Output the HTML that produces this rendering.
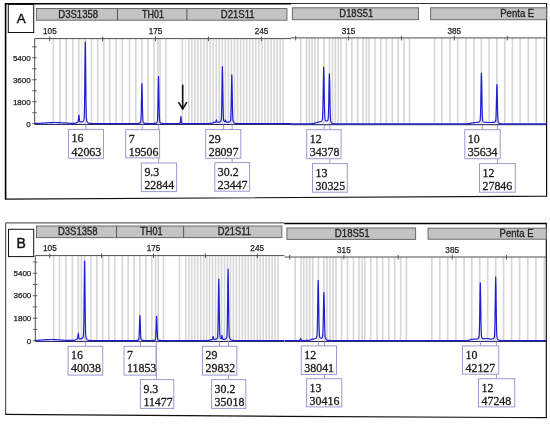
<!DOCTYPE html>
<html><head><meta charset="utf-8"><title>Electropherogram</title>
<style>
html,body{margin:0;padding:0;background:#fff;}
body{width:550px;height:425px;overflow:hidden;}
svg{display:block;}
</style></head>
<body>
<svg width="550" height="425" viewBox="0 0 550 425">
<rect x="0" y="0" width="550" height="425" fill="#fff"/>
<polyline points="5.6,199.2 5.6,3.8 291,3.8" fill="none" stroke="#000" stroke-width="1.6"/>
<polyline points="291,3.5 546.6,3.5" fill="none" stroke="#333" stroke-width="1.0"/>
<polyline points="546.6,3.0 546.6,196.1 5.0,199.2" fill="none" stroke="#111" stroke-width="1.2"/>
<rect x="8.3" y="4.5" width="25.4" height="28.0" fill="#fff" stroke="#111" stroke-width="1"/>
<text x="21.1" y="23.3" font-family="Liberation Sans, sans-serif" font-size="13.4" text-anchor="middle" fill="#111" stroke="#111" stroke-width="0.4">A</text>
<rect x="36.4" y="8.5" width="250.5" height="11.7" fill="#c3c3c3" stroke="#6a6a6a" stroke-width="1"/>
<line x1="117.5" y1="8.5" x2="117.5" y2="20.2" stroke="#555" stroke-width="1"/>
<line x1="186.9" y1="8.5" x2="186.9" y2="20.2" stroke="#555" stroke-width="1"/>
<rect x="292.4" y="7.8" width="126.1" height="11.9" fill="#c3c3c3" stroke="#6a6a6a" stroke-width="1"/>
<rect x="430.6" y="7.8" width="116.0" height="11.9" fill="#c3c3c3" stroke="#6a6a6a" stroke-width="1"/>
<text x="78.20" y="18.0" font-family="Liberation Sans, sans-serif" font-size="10.1" text-anchor="middle" textLength="39.9" lengthAdjust="spacingAndGlyphs" fill="#222" stroke="#222" stroke-width="0.3">D3S1358</text>
<text x="152.95" y="18.0" font-family="Liberation Sans, sans-serif" font-size="10.1" text-anchor="middle" textLength="21.8" lengthAdjust="spacingAndGlyphs" fill="#222" stroke="#222" stroke-width="0.3">TH01</text>
<text x="237.70" y="18.1" font-family="Liberation Sans, sans-serif" font-size="10.1" text-anchor="middle" textLength="33.9" lengthAdjust="spacingAndGlyphs" fill="#222" stroke="#222" stroke-width="0.3">D21S11</text>
<text x="356.35" y="17.3" font-family="Liberation Sans, sans-serif" font-size="10.1" text-anchor="middle" textLength="34.0" lengthAdjust="spacingAndGlyphs" fill="#222" stroke="#222" stroke-width="0.3">D18S51</text>
<text x="517.25" y="17.0" font-family="Liberation Sans, sans-serif" font-size="10.1" text-anchor="middle" textLength="34.0" lengthAdjust="spacingAndGlyphs" fill="#222" stroke="#222" stroke-width="0.3">Penta E</text>
<line x1="185.50" y1="38.6" x2="185.50" y2="123.5" stroke="#ececec" stroke-width="1.2"/>
<line x1="81.70" y1="38.6" x2="81.70" y2="123.5" stroke="#ececec" stroke-width="1.2"/>
<line x1="53.40" y1="38.6" x2="53.40" y2="123.5" stroke="#d6d6d6" stroke-width="1.6"/>
<line x1="59.90" y1="38.6" x2="59.90" y2="123.5" stroke="#d6d6d6" stroke-width="1.6"/>
<line x1="66.20" y1="38.6" x2="66.20" y2="123.5" stroke="#d6d6d6" stroke-width="1.6"/>
<line x1="72.80" y1="38.6" x2="72.80" y2="123.5" stroke="#d6d6d6" stroke-width="1.6"/>
<line x1="78.80" y1="38.6" x2="78.80" y2="123.5" stroke="#d6d6d6" stroke-width="1.6"/>
<line x1="85.30" y1="38.6" x2="85.30" y2="123.5" stroke="#d6d6d6" stroke-width="1.6"/>
<line x1="91.50" y1="38.6" x2="91.50" y2="123.5" stroke="#d6d6d6" stroke-width="1.6"/>
<line x1="97.70" y1="38.6" x2="97.70" y2="123.5" stroke="#d6d6d6" stroke-width="1.6"/>
<line x1="103.80" y1="38.6" x2="103.80" y2="123.5" stroke="#d6d6d6" stroke-width="1.6"/>
<line x1="109.80" y1="38.6" x2="109.80" y2="123.5" stroke="#d6d6d6" stroke-width="1.6"/>
<line x1="116.20" y1="38.6" x2="116.20" y2="123.5" stroke="#d6d6d6" stroke-width="1.6"/>
<line x1="122.30" y1="38.6" x2="122.30" y2="123.5" stroke="#d6d6d6" stroke-width="1.6"/>
<line x1="129.60" y1="38.6" x2="129.60" y2="123.5" stroke="#d6d6d6" stroke-width="1.6"/>
<line x1="135.80" y1="38.6" x2="135.80" y2="123.5" stroke="#d6d6d6" stroke-width="1.6"/>
<line x1="141.90" y1="38.6" x2="141.90" y2="123.5" stroke="#d6d6d6" stroke-width="1.6"/>
<line x1="147.90" y1="38.6" x2="147.90" y2="123.5" stroke="#d6d6d6" stroke-width="1.6"/>
<line x1="154.10" y1="38.6" x2="154.10" y2="123.5" stroke="#d6d6d6" stroke-width="1.6"/>
<line x1="158.00" y1="38.6" x2="158.00" y2="123.5" stroke="#d6d6d6" stroke-width="1.6"/>
<line x1="160.10" y1="38.6" x2="160.10" y2="123.5" stroke="#d6d6d6" stroke-width="1.6"/>
<line x1="165.90" y1="38.6" x2="165.90" y2="123.5" stroke="#d6d6d6" stroke-width="1.6"/>
<line x1="182.30" y1="38.6" x2="182.30" y2="123.5" stroke="#d6d6d6" stroke-width="1.6"/>
<line x1="188.80" y1="38.6" x2="188.80" y2="123.5" stroke="#d6d6d6" stroke-width="1.6"/>
<line x1="191.84" y1="38.6" x2="191.84" y2="123.5" stroke="#d6d6d6" stroke-width="1.6"/>
<line x1="194.89" y1="38.6" x2="194.89" y2="123.5" stroke="#d6d6d6" stroke-width="1.6"/>
<line x1="197.94" y1="38.6" x2="197.94" y2="123.5" stroke="#d6d6d6" stroke-width="1.6"/>
<line x1="200.98" y1="38.6" x2="200.98" y2="123.5" stroke="#d6d6d6" stroke-width="1.6"/>
<line x1="204.03" y1="38.6" x2="204.03" y2="123.5" stroke="#d6d6d6" stroke-width="1.6"/>
<line x1="207.07" y1="38.6" x2="207.07" y2="123.5" stroke="#d6d6d6" stroke-width="1.6"/>
<line x1="210.12" y1="38.6" x2="210.12" y2="123.5" stroke="#d6d6d6" stroke-width="1.6"/>
<line x1="213.16" y1="38.6" x2="213.16" y2="123.5" stroke="#d6d6d6" stroke-width="1.6"/>
<line x1="216.21" y1="38.6" x2="216.21" y2="123.5" stroke="#d6d6d6" stroke-width="1.6"/>
<line x1="219.25" y1="38.6" x2="219.25" y2="123.5" stroke="#d6d6d6" stroke-width="1.6"/>
<line x1="222.30" y1="38.6" x2="222.30" y2="123.5" stroke="#d6d6d6" stroke-width="1.6"/>
<line x1="225.34" y1="38.6" x2="225.34" y2="123.5" stroke="#d6d6d6" stroke-width="1.6"/>
<line x1="228.39" y1="38.6" x2="228.39" y2="123.5" stroke="#d6d6d6" stroke-width="1.6"/>
<line x1="231.43" y1="38.6" x2="231.43" y2="123.5" stroke="#d6d6d6" stroke-width="1.6"/>
<line x1="234.48" y1="38.6" x2="234.48" y2="123.5" stroke="#d6d6d6" stroke-width="1.6"/>
<line x1="237.52" y1="38.6" x2="237.52" y2="123.5" stroke="#d6d6d6" stroke-width="1.6"/>
<line x1="240.56" y1="38.6" x2="240.56" y2="123.5" stroke="#d6d6d6" stroke-width="1.6"/>
<line x1="243.61" y1="38.6" x2="243.61" y2="123.5" stroke="#d6d6d6" stroke-width="1.6"/>
<line x1="246.66" y1="38.6" x2="246.66" y2="123.5" stroke="#d6d6d6" stroke-width="1.6"/>
<line x1="249.70" y1="38.6" x2="249.70" y2="123.5" stroke="#d6d6d6" stroke-width="1.6"/>
<line x1="252.75" y1="38.6" x2="252.75" y2="123.5" stroke="#d6d6d6" stroke-width="1.6"/>
<line x1="255.79" y1="38.6" x2="255.79" y2="123.5" stroke="#d6d6d6" stroke-width="1.6"/>
<line x1="258.84" y1="38.6" x2="258.84" y2="123.5" stroke="#d6d6d6" stroke-width="1.6"/>
<line x1="261.88" y1="38.6" x2="261.88" y2="123.5" stroke="#d6d6d6" stroke-width="1.6"/>
<line x1="264.93" y1="38.6" x2="264.93" y2="123.5" stroke="#d6d6d6" stroke-width="1.6"/>
<line x1="267.97" y1="38.6" x2="267.97" y2="123.5" stroke="#d6d6d6" stroke-width="1.6"/>
<line x1="271.01" y1="38.6" x2="271.01" y2="123.5" stroke="#d6d6d6" stroke-width="1.6"/>
<line x1="274.06" y1="38.6" x2="274.06" y2="123.5" stroke="#d6d6d6" stroke-width="1.6"/>
<line x1="277.11" y1="38.6" x2="277.11" y2="123.5" stroke="#d6d6d6" stroke-width="1.6"/>
<line x1="280.15" y1="38.6" x2="280.15" y2="123.5" stroke="#d6d6d6" stroke-width="1.6"/>
<line x1="283.19" y1="38.6" x2="283.19" y2="123.5" stroke="#d6d6d6" stroke-width="1.6"/>
<line x1="34.7" y1="38.60" x2="291.0" y2="38.60" stroke="#505050" stroke-width="1"/>
<line x1="34.7" y1="124.40" x2="291.0" y2="124.40" stroke="#14145a" stroke-width="1.0"/>
<line x1="49.70" y1="36.6" x2="49.70" y2="41.1" stroke="#505050" stroke-width="1"/>
<line x1="102.60" y1="36.6" x2="102.60" y2="41.1" stroke="#505050" stroke-width="1"/>
<line x1="155.50" y1="36.6" x2="155.50" y2="41.1" stroke="#505050" stroke-width="1"/>
<line x1="208.40" y1="36.6" x2="208.40" y2="41.1" stroke="#505050" stroke-width="1"/>
<line x1="261.40" y1="36.6" x2="261.40" y2="41.1" stroke="#505050" stroke-width="1"/>
<text x="49.9" y="34.4" font-family="Liberation Sans, sans-serif" font-size="8.2" text-anchor="middle" fill="#222" stroke="#222" stroke-width="0.25">105</text>
<text x="155.6" y="34.4" font-family="Liberation Sans, sans-serif" font-size="8.2" text-anchor="middle" fill="#222" stroke="#222" stroke-width="0.25">175</text>
<text x="261.5" y="34.4" font-family="Liberation Sans, sans-serif" font-size="8.2" text-anchor="middle" fill="#222" stroke="#222" stroke-width="0.25">245</text>
<line x1="34.7" y1="38.6" x2="34.7" y2="124.5" stroke="#505050" stroke-width="1"/>
<line x1="32.2" y1="46.80" x2="36.7" y2="46.80" stroke="#505050" stroke-width="0.9"/>
<line x1="32.2" y1="57.78" x2="36.7" y2="57.78" stroke="#505050" stroke-width="0.9"/>
<line x1="32.2" y1="68.76" x2="36.7" y2="68.76" stroke="#505050" stroke-width="0.9"/>
<line x1="32.2" y1="79.74" x2="36.7" y2="79.74" stroke="#505050" stroke-width="0.9"/>
<line x1="32.2" y1="90.72" x2="36.7" y2="90.72" stroke="#505050" stroke-width="0.9"/>
<line x1="32.2" y1="101.70" x2="36.7" y2="101.70" stroke="#505050" stroke-width="0.9"/>
<line x1="32.2" y1="112.68" x2="36.7" y2="112.68" stroke="#505050" stroke-width="0.9"/>
<line x1="32.2" y1="123.66" x2="36.7" y2="123.66" stroke="#505050" stroke-width="0.9"/>
<text x="30.7" y="60.90" font-family="Liberation Sans, sans-serif" font-size="8" text-anchor="end" fill="#222" stroke="#222" stroke-width="0.25">5400</text>
<text x="30.7" y="82.50" font-family="Liberation Sans, sans-serif" font-size="8" text-anchor="end" fill="#222" stroke="#222" stroke-width="0.25">3600</text>
<text x="30.7" y="104.80" font-family="Liberation Sans, sans-serif" font-size="8" text-anchor="end" fill="#222" stroke="#222" stroke-width="0.25">1800</text>
<text x="30.7" y="126.60" font-family="Liberation Sans, sans-serif" font-size="8" text-anchor="end" fill="#222" stroke="#222" stroke-width="0.25">0</text>
<polyline points="34.70,123.42 34.95,123.42 35.20,123.41 35.45,123.41 35.70,123.40 35.95,123.39 36.20,123.39 36.45,123.38 36.70,123.37 36.95,123.37 37.20,123.36 37.45,123.35 37.70,123.34 37.95,123.33 38.20,123.32 38.45,123.32 38.70,123.31 38.95,123.30 39.20,123.29 39.45,123.28 39.70,123.26 39.95,123.25 40.20,123.24 40.45,123.23 40.70,123.22 40.95,123.20 41.20,123.19 41.45,123.18 41.70,123.16 41.95,123.15 42.20,123.14 42.45,123.12 42.70,123.11 42.95,123.09 43.20,123.08 43.45,123.06 43.70,123.05 43.95,123.03 44.20,123.01 44.45,123.00 44.70,122.98 44.95,122.96 45.20,122.95 45.45,122.93 45.70,122.91 45.95,122.90 46.20,122.88 46.45,122.86 46.70,122.85 46.95,122.83 47.20,122.81 47.45,122.80 47.70,122.78 47.95,122.76 48.20,122.75 48.45,122.73 48.70,122.72 48.95,122.70 49.20,122.69 49.45,122.67 49.70,122.66 49.95,122.65 50.20,122.63 50.45,122.62 50.70,122.61 50.95,122.60 51.20,122.59 51.45,122.57 51.70,122.57 51.95,122.56 52.20,122.55 52.45,122.54 52.70,122.53 52.95,122.53 53.20,122.52 53.45,122.51 53.70,122.51 53.95,122.51 54.20,122.50 54.45,122.50 54.70,122.50 54.95,122.50 55.20,122.50 55.45,122.50 55.70,122.50 55.95,122.51 56.20,122.51 56.45,122.51 56.70,122.52 56.95,122.52 57.20,122.53 57.45,122.54 57.70,122.54 57.95,122.55 58.20,122.56 58.45,122.57 58.70,122.58 58.95,122.59 59.20,122.60 59.45,122.62 59.70,122.63 59.95,122.64 60.20,122.65 60.45,122.67 60.70,122.68 60.95,122.70 61.20,122.71 61.45,122.73 61.70,122.74 61.95,122.76 62.20,122.77 62.45,122.79 62.70,122.81 62.95,122.82 63.20,122.84 63.45,122.86 63.70,122.87 63.95,122.89 64.20,122.91 64.45,122.92 64.70,122.94 64.95,122.96 65.20,122.97 65.45,122.99 65.70,123.01 65.95,123.02 66.20,123.04 66.45,123.05 66.70,123.07 66.95,123.09 67.20,123.10 67.45,123.12 67.70,123.13 67.95,123.14 68.20,123.16 68.45,123.17 68.70,123.19 68.95,123.20 69.20,123.21 69.45,123.22 69.70,123.24 69.95,123.25 70.20,123.26 70.45,123.27 70.70,123.28 70.95,123.29 71.20,123.30 71.45,123.31 71.70,123.32 71.95,123.33 72.20,123.34 72.45,123.34 72.70,123.35 72.95,123.35 73.20,123.36 73.45,123.36 73.70,123.36 73.95,123.35 74.20,123.35 74.45,123.33 74.70,123.31 74.95,123.27 75.20,123.23 75.45,123.16 75.70,123.08 75.95,122.98 76.20,122.87 76.45,122.74 76.70,122.61 76.95,122.48 77.20,122.35 77.45,122.23 77.70,122.11 77.95,121.90 78.20,121.22 78.45,119.30 78.70,116.43 78.90,115.19 78.95,115.31 79.20,117.52 79.45,120.18 79.70,121.48 79.95,121.83 80.20,121.92 80.45,121.95 80.70,121.96 80.95,121.96 81.20,121.95 81.45,121.93 81.70,121.90 81.95,121.85 82.20,121.78 82.45,121.69 82.70,121.56 82.95,121.40 83.20,121.18 83.45,120.88 83.70,120.46 83.95,119.66 84.20,117.30 84.45,109.95 84.70,92.65 84.95,66.26 85.20,44.84 85.30,41.80 85.45,47.86 85.70,71.98 85.95,97.39 86.20,112.55 86.45,118.63 86.70,120.62 86.95,121.42 87.20,121.91 87.45,122.28 87.70,122.57 87.95,122.79 88.20,122.96 88.45,123.09 88.70,123.19 88.95,123.27 89.20,123.33 89.45,123.37 89.70,123.40 89.95,123.43 90.20,123.44 90.45,123.46 90.70,123.47 90.95,123.48 91.20,123.48 91.45,123.49 91.70,123.49 91.95,123.49 92.20,123.49 92.45,123.50 92.70,123.50 92.95,123.50 93.20,123.50 93.45,123.50 93.70,123.50 93.95,123.50 94.20,123.50 94.45,123.50 94.70,123.50 94.95,123.50 95.20,123.50 95.45,123.50 95.70,123.50 95.95,123.50 96.20,123.50 96.45,123.50 96.70,123.50 96.95,123.50 97.20,123.50 97.45,123.50 97.70,123.50 97.95,123.50 98.20,123.50 98.45,123.50 98.70,123.50 98.95,123.50 99.20,123.50 99.45,123.50 99.70,123.50 99.95,123.50 100.20,123.50 100.45,123.50 100.70,123.50 100.95,123.50 101.20,123.50 101.45,123.50 101.70,123.50 101.95,123.50 102.20,123.50 102.45,123.50 102.70,123.50 102.95,123.50 103.20,123.50 103.45,123.50 103.70,123.50 103.95,123.50 104.20,123.50 104.45,123.50 104.70,123.50 104.95,123.50 105.20,123.50 105.45,123.50 105.70,123.50 105.95,123.50 106.20,123.50 106.45,123.50 106.70,123.50 106.95,123.50 107.20,123.50 107.45,123.50 107.70,123.50 107.95,123.50 108.20,123.50 108.45,123.50 108.70,123.50 108.95,123.50 109.20,123.50 109.45,123.50 109.70,123.50 109.95,123.50 110.20,123.50 110.45,123.50 110.70,123.50 110.95,123.50 111.20,123.50 111.45,123.50 111.70,123.50 111.95,123.50 112.20,123.50 112.45,123.50 112.70,123.50 112.95,123.50 113.20,123.50 113.45,123.50 113.70,123.50 113.95,123.50 114.20,123.50 114.45,123.50 114.70,123.50 114.95,123.50 115.20,123.50 115.45,123.50 115.70,123.50 115.95,123.50 116.20,123.50 116.45,123.50 116.70,123.50 116.95,123.50 117.20,123.50 117.45,123.50 117.70,123.50 117.95,123.50 118.20,123.50 118.45,123.50 118.70,123.50 118.95,123.50 119.20,123.50 119.45,123.50 119.70,123.50 119.95,123.50 120.20,123.50 120.45,123.50 120.70,123.50 120.95,123.50 121.20,123.50 121.45,123.50 121.70,123.50 121.95,123.50 122.20,123.50 122.45,123.50 122.70,123.50 122.95,123.50 123.20,123.50 123.45,123.50 123.70,123.50 123.95,123.50 124.20,123.50 124.45,123.50 124.70,123.50 124.95,123.50 125.20,123.50 125.45,123.50 125.70,123.50 125.95,123.50 126.20,123.50 126.45,123.50 126.70,123.50 126.95,123.50 127.20,123.50 127.45,123.50 127.70,123.50 127.95,123.50 128.20,123.50 128.45,123.50 128.70,123.50 128.95,123.50 129.20,123.50 129.45,123.50 129.70,123.50 129.95,123.50 130.20,123.50 130.45,123.50 130.70,123.50 130.95,123.50 131.20,123.50 131.45,123.50 131.70,123.50 131.95,123.50 132.20,123.50 132.45,123.50 132.70,123.50 132.95,123.50 133.20,123.50 133.45,123.50 133.70,123.50 133.95,123.50 134.20,123.50 134.45,123.50 134.70,123.50 134.95,123.50 135.20,123.50 135.45,123.50 135.70,123.50 135.95,123.49 136.20,123.49 136.45,123.49 136.70,123.49 136.95,123.48 137.20,123.47 137.45,123.47 137.70,123.45 137.95,123.44 138.20,123.42 138.45,123.40 138.70,123.36 138.95,123.32 139.20,123.26 139.45,123.19 139.70,123.08 139.95,122.95 140.20,122.77 140.45,122.47 140.70,121.73 140.95,119.36 141.20,112.98 141.45,101.23 141.70,88.45 141.90,83.60 141.95,84.12 142.20,93.12 142.45,106.47 142.70,116.18 142.95,120.63 143.20,122.13 143.45,122.61 143.70,122.85 143.95,123.01 144.20,123.13 144.45,123.22 144.70,123.29 144.95,123.34 145.20,123.38 145.45,123.41 145.70,123.43 145.95,123.45 146.20,123.46 146.45,123.47 146.70,123.48 146.95,123.48 147.20,123.49 147.45,123.49 147.70,123.49 147.95,123.49 148.20,123.50 148.45,123.50 148.70,123.50 148.95,123.50 149.20,123.50 149.45,123.50 149.70,123.50 149.95,123.50 150.20,123.50 150.45,123.50 150.70,123.50 150.95,123.50 151.20,123.50 151.45,123.50 151.70,123.50 151.95,123.50 152.20,123.49 152.45,123.49 152.70,123.49 152.95,123.49 153.20,123.48 153.45,123.48 153.70,123.47 153.95,123.46 154.20,123.45 154.45,123.44 154.70,123.42 154.95,123.39 155.20,123.36 155.45,123.31 155.70,123.25 155.95,123.17 156.20,123.06 156.45,122.92 156.70,122.74 156.95,122.46 157.20,121.88 157.45,120.13 157.70,114.89 157.95,103.48 158.20,87.79 158.45,77.21 158.50,76.60 158.70,82.30 158.95,97.32 159.20,111.13 159.45,118.63 159.70,121.42 159.95,122.29 160.20,122.64 160.45,122.85 160.70,123.01 160.95,123.13 161.20,123.22 161.45,123.29 161.70,123.34 161.95,123.38 162.20,123.41 162.45,123.43 162.70,123.45 162.95,123.46 163.20,123.47 163.45,123.48 163.70,123.48 163.95,123.49 164.20,123.49 164.45,123.49 164.70,123.49 164.95,123.50 165.20,123.50 165.45,123.50 165.70,123.50 165.95,123.50 166.20,123.50 166.45,123.50 166.70,123.50 166.95,123.50 167.20,123.50 167.45,123.50 167.70,123.50 167.95,123.50 168.20,123.50 168.45,123.50 168.70,123.50 168.95,123.50 169.20,123.50 169.45,123.50 169.70,123.50 169.95,123.50 170.20,123.50 170.45,123.50 170.70,123.50 170.95,123.50 171.20,123.50 171.45,123.50 171.70,123.50 171.95,123.50 172.20,123.50 172.45,123.50 172.70,123.50 172.95,123.50 173.20,123.50 173.45,123.50 173.70,123.50 173.95,123.50 174.20,123.50 174.45,123.50 174.70,123.50 174.95,123.50 175.20,123.50 175.45,123.50 175.70,123.50 175.95,123.50 176.20,123.50 176.45,123.50 176.70,123.50 176.95,123.50 177.20,123.50 177.45,123.50 177.70,123.50 177.95,123.50 178.20,123.49 178.45,123.49 178.70,123.49 178.95,123.48 179.20,123.46 179.45,123.44 179.70,123.41 179.95,123.35 180.20,123.15 180.45,121.93 180.70,118.40 180.90,116.40 180.95,116.60 181.20,120.01 181.45,122.66 181.70,123.27 181.95,123.38 182.20,123.42 182.45,123.45 182.70,123.47 182.95,123.48 183.20,123.49 183.45,123.49 183.70,123.50 183.95,123.50 184.20,123.50 184.45,123.50 184.70,123.50 184.95,123.50 185.20,123.50 185.45,123.50 185.70,123.50 185.95,123.50 186.20,123.50 186.45,123.50 186.70,123.50 186.95,123.50 187.20,123.50 187.45,123.50 187.70,123.50 187.95,123.50 188.20,123.50 188.45,123.50 188.70,123.50 188.95,123.50 189.20,123.50 189.45,123.50 189.70,123.50 189.95,123.50 190.20,123.50 190.45,123.50 190.70,123.50 190.95,123.50 191.20,123.50 191.45,123.50 191.70,123.50 191.95,123.50 192.20,123.50 192.45,123.50 192.70,123.50 192.95,123.50 193.20,123.50 193.45,123.50 193.70,123.50 193.95,123.50 194.20,123.50 194.45,123.50 194.70,123.50 194.95,123.50 195.20,123.50 195.45,123.50 195.70,123.50 195.95,123.50 196.20,123.50 196.45,123.50 196.70,123.50 196.95,123.50 197.20,123.50 197.45,123.50 197.70,123.50 197.95,123.50 198.20,123.50 198.45,123.50 198.70,123.50 198.95,123.50 199.20,123.50 199.45,123.50 199.70,123.50 199.95,123.50 200.20,123.50 200.45,123.50 200.70,123.50 200.95,123.50 201.20,123.50 201.45,123.50 201.70,123.50 201.95,123.50 202.20,123.50 202.45,123.50 202.70,123.50 202.95,123.50 203.20,123.50 203.45,123.50 203.70,123.50 203.95,123.50 204.20,123.50 204.45,123.50 204.70,123.50 204.95,123.50 205.20,123.50 205.45,123.50 205.70,123.50 205.95,123.50 206.20,123.50 206.45,123.50 206.70,123.50 206.95,123.50 207.20,123.50 207.45,123.50 207.70,123.50 207.95,123.50 208.20,123.49 208.45,123.49 208.70,123.49 208.95,123.49 209.20,123.48 209.45,123.47 209.70,123.46 209.95,123.45 210.20,123.44 210.45,123.41 210.70,123.39 210.95,123.35 211.20,123.30 211.45,123.25 211.70,123.18 211.95,123.10 212.20,123.01 212.45,122.92 212.70,122.82 212.95,122.73 213.20,122.65 213.45,122.58 213.70,122.51 213.95,122.46 214.20,122.42 214.45,122.38 214.70,122.35 214.95,122.32 215.20,122.29 215.45,122.24 215.70,122.07 215.95,121.46 216.20,120.39 216.40,119.89 216.45,119.94 216.70,120.81 216.95,121.76 217.20,122.13 217.45,122.21 217.70,122.23 217.95,122.23 218.20,122.22 218.45,122.20 218.70,122.18 218.95,122.15 219.20,122.11 219.45,122.05 219.70,121.97 219.95,121.86 220.20,121.72 220.45,121.53 220.70,121.28 220.95,120.86 221.20,119.83 221.45,116.52 221.70,107.61 221.95,91.21 222.20,73.37 222.40,66.60 222.45,67.32 222.70,79.88 222.95,98.52 223.20,112.07 223.45,118.29 223.70,120.37 223.95,121.04 224.20,121.36 224.45,121.57 224.70,121.70 224.95,121.64 225.20,121.13 225.45,120.32 225.60,120.10 225.70,120.25 225.95,121.12 226.20,121.85 226.45,122.11 226.70,122.18 226.95,122.20 227.20,122.21 227.45,122.22 227.70,122.21 227.95,122.20 228.20,122.18 228.45,122.15 228.70,122.11 228.95,122.05 229.20,121.98 229.45,121.88 229.70,121.75 229.95,121.57 230.20,121.32 230.45,120.84 230.70,119.44 230.95,115.10 231.20,104.90 231.45,89.33 231.70,76.70 231.80,74.90 231.95,78.46 232.20,92.67 232.45,107.64 232.70,116.59 232.95,120.20 233.20,121.42 233.45,121.95 233.70,122.31 233.95,122.59 234.20,122.82 234.45,123.00 234.70,123.13 234.95,123.23 235.20,123.30 235.45,123.36 235.70,123.40 235.95,123.42 236.20,123.44 236.45,123.46 236.70,123.47 236.95,123.48 237.20,123.48 237.45,123.49 237.70,123.49 237.95,123.49 238.20,123.49 238.45,123.50 238.70,123.50 238.95,123.50 239.20,123.50 239.45,123.50 239.70,123.50 239.95,123.50 240.20,123.50 240.45,123.50 240.70,123.50 240.95,123.50 241.20,123.50 241.45,123.50 241.70,123.50 241.95,123.50 242.20,123.50 242.45,123.50 242.70,123.50 242.95,123.50 243.20,123.50 243.45,123.50 243.70,123.50 243.95,123.50 244.20,123.50 244.45,123.50 244.70,123.50 244.95,123.50 245.20,123.50 245.45,123.50 245.70,123.50 245.95,123.50 246.20,123.50 246.45,123.50 246.70,123.50 246.95,123.50 247.20,123.50 247.45,123.50 247.70,123.50 247.95,123.50 248.20,123.50 248.45,123.50 248.70,123.50 248.95,123.50 249.20,123.50 249.45,123.50 249.70,123.50 249.95,123.50 250.20,123.50 250.45,123.50 250.70,123.50 250.95,123.50 251.20,123.50 251.45,123.50 251.70,123.50 251.95,123.50 252.20,123.50 252.45,123.50 252.70,123.50 252.95,123.50 253.20,123.50 253.45,123.50 253.70,123.50 253.95,123.50 254.20,123.50 254.45,123.50 254.70,123.50 254.95,123.50 255.20,123.50 255.45,123.50 255.70,123.50 255.95,123.50 256.20,123.50 256.45,123.50 256.70,123.50 256.95,123.50 257.20,123.50 257.45,123.50 257.70,123.50 257.95,123.50 258.20,123.50 258.45,123.50 258.70,123.50 258.95,123.50 259.20,123.50 259.45,123.50 259.70,123.50 259.95,123.50 260.20,123.50 260.45,123.50 260.70,123.50 260.95,123.50 261.20,123.50 261.45,123.50 261.70,123.50 261.95,123.50 262.20,123.50 262.45,123.50 262.70,123.50 262.95,123.50 263.20,123.50 263.45,123.50 263.70,123.50 263.95,123.50 264.20,123.50 264.45,123.50 264.70,123.50 264.95,123.50 265.20,123.50 265.45,123.50 265.70,123.50 265.95,123.50 266.20,123.50 266.45,123.50 266.70,123.50 266.95,123.50 267.20,123.50 267.45,123.50 267.70,123.50 267.95,123.50 268.20,123.50 268.45,123.50 268.70,123.50 268.95,123.50 269.20,123.50 269.45,123.50 269.70,123.50 269.95,123.50 270.20,123.50 270.45,123.50 270.70,123.50 270.95,123.50 271.20,123.50 271.45,123.50 271.70,123.50 271.95,123.50 272.20,123.50 272.45,123.50 272.70,123.50 272.95,123.50 273.20,123.50 273.45,123.50 273.70,123.50 273.95,123.50 274.20,123.50 274.45,123.50 274.70,123.50 274.95,123.50 275.20,123.50 275.45,123.50 275.70,123.50 275.95,123.50 276.20,123.50 276.45,123.50 276.70,123.50 276.95,123.50 277.20,123.50 277.45,123.50 277.70,123.50 277.95,123.50 278.20,123.50 278.45,123.50 278.70,123.50 278.95,123.50 279.20,123.50 279.45,123.50 279.70,123.50 279.95,123.50 280.20,123.50 280.45,123.50 280.70,123.50 280.95,123.50 281.20,123.50 281.45,123.50 281.70,123.50 281.95,123.50 282.20,123.50 282.45,123.50 282.70,123.50 282.95,123.50 283.20,123.50 283.45,123.50 283.70,123.50 283.95,123.50 284.20,123.50 284.45,123.50 284.70,123.50 284.95,123.50 285.20,123.50 285.45,123.50 285.70,123.50 285.95,123.50 286.20,123.50 286.45,123.50 286.70,123.50 286.95,123.50 287.20,123.50 287.45,123.50 287.70,123.50 287.95,123.50 288.20,123.50 288.45,123.50 288.70,123.50 288.95,123.50 289.20,123.50 289.45,123.50 289.70,123.50 289.95,123.50 290.20,123.50 290.45,123.50 290.70,123.50 290.95,123.50" fill="none" stroke="#1e1ed4" stroke-width="1.2" stroke-linejoin="round"/>
<line x1="300.70" y1="37.9" x2="300.70" y2="123.8" stroke="#d6d6d6" stroke-width="1.6"/>
<line x1="306.60" y1="37.9" x2="306.60" y2="123.8" stroke="#d6d6d6" stroke-width="1.6"/>
<line x1="309.40" y1="37.9" x2="309.40" y2="123.8" stroke="#d6d6d6" stroke-width="1.6"/>
<line x1="312.10" y1="37.9" x2="312.10" y2="123.8" stroke="#d6d6d6" stroke-width="1.6"/>
<line x1="314.80" y1="37.9" x2="314.80" y2="123.8" stroke="#d6d6d6" stroke-width="1.6"/>
<line x1="318.00" y1="37.9" x2="318.00" y2="123.8" stroke="#d6d6d6" stroke-width="1.6"/>
<line x1="323.90" y1="37.9" x2="323.90" y2="123.8" stroke="#d6d6d6" stroke-width="1.6"/>
<line x1="329.40" y1="37.9" x2="329.40" y2="123.8" stroke="#d6d6d6" stroke-width="1.6"/>
<line x1="332.50" y1="37.9" x2="332.50" y2="123.8" stroke="#d6d6d6" stroke-width="1.6"/>
<line x1="335.30" y1="37.9" x2="335.30" y2="123.8" stroke="#d6d6d6" stroke-width="1.6"/>
<line x1="338.20" y1="37.9" x2="338.20" y2="123.8" stroke="#d6d6d6" stroke-width="1.6"/>
<line x1="340.90" y1="37.9" x2="340.90" y2="123.8" stroke="#d6d6d6" stroke-width="1.6"/>
<line x1="346.40" y1="37.9" x2="346.40" y2="123.8" stroke="#d6d6d6" stroke-width="1.6"/>
<line x1="351.80" y1="37.9" x2="351.80" y2="123.8" stroke="#d6d6d6" stroke-width="1.6"/>
<line x1="357.70" y1="37.9" x2="357.70" y2="123.8" stroke="#d6d6d6" stroke-width="1.6"/>
<line x1="363.20" y1="37.9" x2="363.20" y2="123.8" stroke="#d6d6d6" stroke-width="1.6"/>
<line x1="366.40" y1="37.9" x2="366.40" y2="123.8" stroke="#d6d6d6" stroke-width="1.6"/>
<line x1="369.10" y1="37.9" x2="369.10" y2="123.8" stroke="#d6d6d6" stroke-width="1.6"/>
<line x1="375.00" y1="37.9" x2="375.00" y2="123.8" stroke="#d6d6d6" stroke-width="1.6"/>
<line x1="380.70" y1="37.9" x2="380.70" y2="123.8" stroke="#d6d6d6" stroke-width="1.6"/>
<line x1="386.40" y1="37.9" x2="386.40" y2="123.8" stroke="#d6d6d6" stroke-width="1.6"/>
<line x1="392.30" y1="37.9" x2="392.30" y2="123.8" stroke="#d6d6d6" stroke-width="1.6"/>
<line x1="398.20" y1="37.9" x2="398.20" y2="123.8" stroke="#d6d6d6" stroke-width="1.6"/>
<line x1="404.10" y1="37.9" x2="404.10" y2="123.8" stroke="#d6d6d6" stroke-width="1.6"/>
<line x1="409.50" y1="37.9" x2="409.50" y2="123.8" stroke="#d6d6d6" stroke-width="1.6"/>
<line x1="434.50" y1="37.9" x2="434.50" y2="123.8" stroke="#d6d6d6" stroke-width="1.6"/>
<line x1="441.80" y1="37.9" x2="441.80" y2="123.8" stroke="#d6d6d6" stroke-width="1.6"/>
<line x1="450.00" y1="37.9" x2="450.00" y2="123.8" stroke="#d6d6d6" stroke-width="1.6"/>
<line x1="457.70" y1="37.9" x2="457.70" y2="123.8" stroke="#d6d6d6" stroke-width="1.6"/>
<line x1="465.90" y1="37.9" x2="465.90" y2="123.8" stroke="#d6d6d6" stroke-width="1.6"/>
<line x1="473.90" y1="37.9" x2="473.90" y2="123.8" stroke="#d6d6d6" stroke-width="1.6"/>
<line x1="481.40" y1="37.9" x2="481.40" y2="123.8" stroke="#d6d6d6" stroke-width="1.6"/>
<line x1="489.10" y1="37.9" x2="489.10" y2="123.8" stroke="#d6d6d6" stroke-width="1.6"/>
<line x1="496.80" y1="37.9" x2="496.80" y2="123.8" stroke="#d6d6d6" stroke-width="1.6"/>
<line x1="504.80" y1="37.9" x2="504.80" y2="123.8" stroke="#d6d6d6" stroke-width="1.6"/>
<line x1="512.40" y1="37.9" x2="512.40" y2="123.8" stroke="#d6d6d6" stroke-width="1.6"/>
<line x1="520.10" y1="37.9" x2="520.10" y2="123.8" stroke="#d6d6d6" stroke-width="1.6"/>
<line x1="528.30" y1="37.9" x2="528.30" y2="123.8" stroke="#d6d6d6" stroke-width="1.6"/>
<line x1="536.10" y1="37.9" x2="536.10" y2="123.8" stroke="#d6d6d6" stroke-width="1.6"/>
<line x1="544.30" y1="37.9" x2="544.30" y2="123.8" stroke="#d6d6d6" stroke-width="1.6"/>
<line x1="291.0" y1="37.90" x2="546.5" y2="37.90" stroke="#505050" stroke-width="1"/>
<line x1="291.0" y1="124.70" x2="546.5" y2="124.70" stroke="#14145a" stroke-width="1.0"/>
<line x1="295.70" y1="35.9" x2="295.70" y2="40.4" stroke="#505050" stroke-width="1"/>
<line x1="348.60" y1="35.9" x2="348.60" y2="40.4" stroke="#505050" stroke-width="1"/>
<line x1="401.50" y1="35.9" x2="401.50" y2="40.4" stroke="#505050" stroke-width="1"/>
<line x1="454.30" y1="35.9" x2="454.30" y2="40.4" stroke="#505050" stroke-width="1"/>
<line x1="507.30" y1="35.9" x2="507.30" y2="40.4" stroke="#505050" stroke-width="1"/>
<text x="348.6" y="33.7" font-family="Liberation Sans, sans-serif" font-size="8.2" text-anchor="middle" fill="#222" stroke="#222" stroke-width="0.25">315</text>
<text x="454.3" y="33.7" font-family="Liberation Sans, sans-serif" font-size="8.2" text-anchor="middle" fill="#222" stroke="#222" stroke-width="0.25">385</text>
<polyline points="291.00,123.80 291.25,123.80 291.50,123.80 291.75,123.80 292.00,123.80 292.25,123.80 292.50,123.80 292.75,123.80 293.00,123.80 293.25,123.80 293.50,123.80 293.75,123.80 294.00,123.80 294.25,123.80 294.50,123.80 294.75,123.80 295.00,123.80 295.25,123.80 295.50,123.80 295.75,123.80 296.00,123.80 296.25,123.80 296.50,123.80 296.75,123.80 297.00,123.80 297.25,123.80 297.50,123.80 297.75,123.80 298.00,123.80 298.25,123.80 298.50,123.80 298.75,123.80 299.00,123.80 299.25,123.80 299.50,123.80 299.75,123.80 300.00,123.80 300.25,123.80 300.50,123.80 300.75,123.80 301.00,123.80 301.25,123.80 301.50,123.80 301.75,123.80 302.00,123.80 302.25,123.80 302.50,123.80 302.75,123.80 303.00,123.80 303.25,123.80 303.50,123.80 303.75,123.80 304.00,123.80 304.25,123.80 304.50,123.80 304.75,123.80 305.00,123.80 305.25,123.80 305.50,123.80 305.75,123.80 306.00,123.80 306.25,123.80 306.50,123.79 306.75,123.79 307.00,123.79 307.25,123.79 307.50,123.79 307.75,123.79 308.00,123.79 308.25,123.78 308.50,123.78 308.75,123.78 309.00,123.78 309.25,123.77 309.50,123.77 309.75,123.76 310.00,123.75 310.25,123.75 310.50,123.74 310.75,123.73 311.00,123.72 311.25,123.70 311.50,123.69 311.75,123.67 312.00,123.65 312.25,123.62 312.50,123.60 312.75,123.57 313.00,123.53 313.25,123.50 313.50,123.45 313.75,123.41 314.00,123.35 314.25,123.30 314.50,123.24 314.75,123.17 315.00,123.10 315.25,123.03 315.50,122.95 315.75,122.88 316.00,122.80 316.25,122.72 316.50,122.64 316.75,122.56 317.00,122.49 317.25,122.42 317.50,122.35 317.75,122.28 318.00,122.22 318.25,122.16 318.50,122.11 318.75,122.05 319.00,122.00 319.25,121.95 319.50,121.89 319.75,121.84 320.00,121.78 320.25,121.71 320.50,121.63 320.75,121.53 321.00,121.42 321.25,121.28 321.50,121.10 321.75,120.87 322.00,120.54 322.25,119.86 322.50,118.02 322.75,113.14 323.00,102.85 323.25,87.35 323.50,72.55 323.70,67.18 323.75,67.76 324.00,77.78 324.25,93.89 324.50,107.66 324.75,115.55 325.00,118.89 325.25,120.08 325.50,120.53 325.75,120.76 326.00,120.91 326.25,121.00 326.50,121.05 326.75,121.05 327.00,121.00 327.25,120.91 327.50,120.76 327.75,120.48 328.00,119.81 328.25,117.87 328.50,112.79 328.75,102.65 329.00,88.53 329.25,76.62 329.40,73.78 329.50,75.36 329.75,86.17 330.00,100.81 330.25,112.28 330.50,118.52 330.75,121.14 331.00,122.14 331.25,122.61 331.50,122.90 331.75,123.11 332.00,123.27 332.25,123.40 332.50,123.49 332.75,123.56 333.00,123.62 333.25,123.66 333.50,123.69 333.75,123.71 334.00,123.73 334.25,123.75 334.50,123.76 334.75,123.77 335.00,123.78 335.25,123.78 335.50,123.79 335.75,123.79 336.00,123.79 336.25,123.79 336.50,123.79 336.75,123.80 337.00,123.80 337.25,123.80 337.50,123.80 337.75,123.80 338.00,123.80 338.25,123.80 338.50,123.80 338.75,123.80 339.00,123.80 339.25,123.80 339.50,123.80 339.75,123.80 340.00,123.80 340.25,123.80 340.50,123.80 340.75,123.80 341.00,123.80 341.25,123.80 341.50,123.80 341.75,123.80 342.00,123.80 342.25,123.80 342.50,123.80 342.75,123.80 343.00,123.80 343.25,123.80 343.50,123.80 343.75,123.80 344.00,123.80 344.25,123.80 344.50,123.80 344.75,123.80 345.00,123.80 345.25,123.80 345.50,123.80 345.75,123.80 346.00,123.80 346.25,123.80 346.50,123.80 346.75,123.80 347.00,123.80 347.25,123.80 347.50,123.80 347.75,123.80 348.00,123.80 348.25,123.80 348.50,123.80 348.75,123.80 349.00,123.80 349.25,123.80 349.50,123.80 349.75,123.80 350.00,123.80 350.25,123.80 350.50,123.80 350.75,123.80 351.00,123.80 351.25,123.80 351.50,123.80 351.75,123.80 352.00,123.80 352.25,123.80 352.50,123.80 352.75,123.80 353.00,123.80 353.25,123.80 353.50,123.80 353.75,123.80 354.00,123.80 354.25,123.80 354.50,123.80 354.75,123.80 355.00,123.80 355.25,123.80 355.50,123.80 355.75,123.80 356.00,123.80 356.25,123.80 356.50,123.80 356.75,123.80 357.00,123.80 357.25,123.80 357.50,123.80 357.75,123.80 358.00,123.80 358.25,123.80 358.50,123.80 358.75,123.80 359.00,123.80 359.25,123.80 359.50,123.80 359.75,123.80 360.00,123.80 360.25,123.80 360.50,123.80 360.75,123.80 361.00,123.80 361.25,123.80 361.50,123.80 361.75,123.80 362.00,123.80 362.25,123.80 362.50,123.80 362.75,123.80 363.00,123.80 363.25,123.80 363.50,123.80 363.75,123.80 364.00,123.80 364.25,123.80 364.50,123.80 364.75,123.80 365.00,123.80 365.25,123.80 365.50,123.80 365.75,123.80 366.00,123.80 366.25,123.80 366.50,123.80 366.75,123.80 367.00,123.80 367.25,123.80 367.50,123.80 367.75,123.80 368.00,123.80 368.25,123.80 368.50,123.80 368.75,123.80 369.00,123.80 369.25,123.80 369.50,123.80 369.75,123.80 370.00,123.80 370.25,123.80 370.50,123.80 370.75,123.80 371.00,123.80 371.25,123.80 371.50,123.80 371.75,123.80 372.00,123.80 372.25,123.80 372.50,123.80 372.75,123.80 373.00,123.80 373.25,123.80 373.50,123.80 373.75,123.80 374.00,123.80 374.25,123.80 374.50,123.80 374.75,123.80 375.00,123.80 375.25,123.80 375.50,123.80 375.75,123.80 376.00,123.80 376.25,123.80 376.50,123.80 376.75,123.80 377.00,123.80 377.25,123.80 377.50,123.80 377.75,123.80 378.00,123.80 378.25,123.80 378.50,123.80 378.75,123.80 379.00,123.80 379.25,123.80 379.50,123.80 379.75,123.80 380.00,123.80 380.25,123.80 380.50,123.80 380.75,123.80 381.00,123.80 381.25,123.80 381.50,123.80 381.75,123.80 382.00,123.80 382.25,123.80 382.50,123.80 382.75,123.80 383.00,123.80 383.25,123.80 383.50,123.80 383.75,123.80 384.00,123.80 384.25,123.80 384.50,123.80 384.75,123.80 385.00,123.80 385.25,123.80 385.50,123.80 385.75,123.80 386.00,123.80 386.25,123.80 386.50,123.80 386.75,123.80 387.00,123.80 387.25,123.80 387.50,123.80 387.75,123.80 388.00,123.80 388.25,123.80 388.50,123.80 388.75,123.80 389.00,123.80 389.25,123.80 389.50,123.80 389.75,123.80 390.00,123.80 390.25,123.80 390.50,123.80 390.75,123.80 391.00,123.80 391.25,123.80 391.50,123.80 391.75,123.80 392.00,123.80 392.25,123.80 392.50,123.80 392.75,123.80 393.00,123.80 393.25,123.80 393.50,123.80 393.75,123.80 394.00,123.80 394.25,123.80 394.50,123.80 394.75,123.80 395.00,123.80 395.25,123.80 395.50,123.80 395.75,123.80 396.00,123.80 396.25,123.80 396.50,123.80 396.75,123.80 397.00,123.80 397.25,123.80 397.50,123.80 397.75,123.80 398.00,123.80 398.25,123.80 398.50,123.80 398.75,123.80 399.00,123.80 399.25,123.80 399.50,123.80 399.75,123.80 400.00,123.80 400.25,123.80 400.50,123.80 400.75,123.80 401.00,123.80 401.25,123.80 401.50,123.80 401.75,123.80 402.00,123.80 402.25,123.80 402.50,123.80 402.75,123.80 403.00,123.80 403.25,123.80 403.50,123.80 403.75,123.80 404.00,123.80 404.25,123.80 404.50,123.80 404.75,123.80 405.00,123.80 405.25,123.80 405.50,123.80 405.75,123.80 406.00,123.80 406.25,123.80 406.50,123.80 406.75,123.80 407.00,123.80 407.25,123.80 407.50,123.80 407.75,123.80 408.00,123.80 408.25,123.80 408.50,123.80 408.75,123.80 409.00,123.80 409.25,123.80 409.50,123.80 409.75,123.80 410.00,123.80 410.25,123.80 410.50,123.80 410.75,123.80 411.00,123.80 411.25,123.80 411.50,123.80 411.75,123.80 412.00,123.80 412.25,123.80 412.50,123.80 412.75,123.80 413.00,123.80 413.25,123.80 413.50,123.80 413.75,123.80 414.00,123.80 414.25,123.80 414.50,123.80 414.75,123.80 415.00,123.80 415.25,123.80 415.50,123.80 415.75,123.80 416.00,123.80 416.25,123.80 416.50,123.80 416.75,123.80 417.00,123.80 417.25,123.80 417.50,123.80 417.75,123.80 418.00,123.80 418.25,123.80 418.50,123.80 418.75,123.80 419.00,123.80 419.25,123.80 419.50,123.80 419.75,123.80 420.00,123.80 420.25,123.80 420.50,123.80 420.75,123.80 421.00,123.80 421.25,123.80 421.50,123.80 421.75,123.80 422.00,123.80 422.25,123.80 422.50,123.80 422.75,123.80 423.00,123.80 423.25,123.80 423.50,123.80 423.75,123.80 424.00,123.80 424.25,123.80 424.50,123.80 424.75,123.80 425.00,123.80 425.25,123.80 425.50,123.80 425.75,123.80 426.00,123.80 426.25,123.80 426.50,123.80 426.75,123.80 427.00,123.80 427.25,123.80 427.50,123.80 427.75,123.80 428.00,123.80 428.25,123.80 428.50,123.80 428.75,123.80 429.00,123.80 429.25,123.80 429.50,123.80 429.75,123.80 430.00,123.80 430.25,123.80 430.50,123.80 430.75,123.80 431.00,123.80 431.25,123.80 431.50,123.80 431.75,123.80 432.00,123.80 432.25,123.80 432.50,123.80 432.75,123.80 433.00,123.80 433.25,123.80 433.50,123.80 433.75,123.80 434.00,123.80 434.25,123.80 434.50,123.80 434.75,123.80 435.00,123.80 435.25,123.80 435.50,123.80 435.75,123.80 436.00,123.80 436.25,123.80 436.50,123.80 436.75,123.80 437.00,123.80 437.25,123.80 437.50,123.80 437.75,123.80 438.00,123.80 438.25,123.80 438.50,123.80 438.75,123.80 439.00,123.80 439.25,123.80 439.50,123.80 439.75,123.80 440.00,123.80 440.25,123.80 440.50,123.80 440.75,123.80 441.00,123.80 441.25,123.80 441.50,123.80 441.75,123.80 442.00,123.80 442.25,123.80 442.50,123.80 442.75,123.80 443.00,123.80 443.25,123.80 443.50,123.80 443.75,123.80 444.00,123.80 444.25,123.80 444.50,123.80 444.75,123.80 445.00,123.80 445.25,123.80 445.50,123.80 445.75,123.80 446.00,123.80 446.25,123.80 446.50,123.80 446.75,123.80 447.00,123.80 447.25,123.80 447.50,123.80 447.75,123.80 448.00,123.80 448.25,123.80 448.50,123.80 448.75,123.80 449.00,123.80 449.25,123.80 449.50,123.80 449.75,123.80 450.00,123.80 450.25,123.80 450.50,123.80 450.75,123.80 451.00,123.80 451.25,123.80 451.50,123.80 451.75,123.80 452.00,123.80 452.25,123.80 452.50,123.80 452.75,123.80 453.00,123.80 453.25,123.80 453.50,123.80 453.75,123.80 454.00,123.80 454.25,123.80 454.50,123.80 454.75,123.80 455.00,123.80 455.25,123.80 455.50,123.80 455.75,123.80 456.00,123.80 456.25,123.80 456.50,123.80 456.75,123.80 457.00,123.80 457.25,123.80 457.50,123.80 457.75,123.80 458.00,123.80 458.25,123.80 458.50,123.80 458.75,123.80 459.00,123.80 459.25,123.80 459.50,123.80 459.75,123.80 460.00,123.80 460.25,123.80 460.50,123.80 460.75,123.80 461.00,123.80 461.25,123.80 461.50,123.80 461.75,123.80 462.00,123.80 462.25,123.80 462.50,123.80 462.75,123.79 463.00,123.79 463.25,123.79 463.50,123.79 463.75,123.79 464.00,123.79 464.25,123.79 464.50,123.78 464.75,123.78 465.00,123.78 465.25,123.77 465.50,123.77 465.75,123.76 466.00,123.76 466.25,123.75 466.50,123.74 466.75,123.73 467.00,123.72 467.25,123.70 467.50,123.69 467.75,123.67 468.00,123.65 468.25,123.62 468.50,123.59 468.75,123.56 469.00,123.53 469.25,123.49 469.50,123.45 469.75,123.41 470.00,123.36 470.25,123.31 470.50,123.26 470.75,123.20 471.00,123.15 471.25,123.10 471.50,123.04 471.75,122.99 472.00,122.94 472.25,122.89 472.50,122.85 472.75,122.81 473.00,122.77 473.25,122.74 473.50,122.70 473.75,122.68 474.00,122.65 474.25,122.63 474.50,122.61 474.75,122.59 475.00,122.58 475.25,122.56 475.50,122.55 475.75,122.54 476.00,122.52 476.25,122.51 476.50,122.50 476.75,122.48 477.00,122.46 477.25,122.44 477.50,122.42 477.75,122.38 478.00,122.34 478.25,122.29 478.50,122.22 478.75,122.13 479.00,122.02 479.25,121.87 479.50,121.68 479.75,121.40 480.00,120.85 480.25,119.29 480.50,114.83 480.75,104.93 481.00,89.90 481.25,76.51 481.40,73.20 481.50,74.89 481.75,86.77 482.00,102.21 482.25,113.35 482.50,118.71 482.75,120.66 483.00,121.32 483.25,121.63 483.50,121.84 483.75,121.99 484.00,122.11 484.25,122.20 484.50,122.27 484.75,122.32 485.00,122.36 485.25,122.39 485.50,122.42 485.75,122.44 486.00,122.45 486.25,122.46 486.50,122.47 486.75,122.48 487.00,122.48 487.25,122.49 487.50,122.49 487.75,122.49 488.00,122.49 488.25,122.49 488.50,122.50 488.75,122.50 489.00,122.50 489.25,122.50 489.50,122.50 489.75,122.50 490.00,122.50 490.25,122.50 490.50,122.49 490.75,122.49 491.00,122.49 491.25,122.49 491.50,122.48 491.75,122.48 492.00,122.47 492.25,122.47 492.50,122.46 492.75,122.45 493.00,122.43 493.25,122.41 493.50,122.38 493.75,122.35 494.00,122.31 494.25,122.25 494.50,122.18 494.75,122.08 495.00,121.96 495.25,121.77 495.50,121.39 495.75,120.22 496.00,116.81 496.25,109.17 496.50,97.56 496.75,87.21 496.90,84.70 497.00,86.06 497.25,95.42 497.50,107.54 497.75,116.30 498.00,120.56 498.25,122.14 498.50,122.71 498.75,122.99 499.00,123.18 499.25,123.33 499.50,123.44 499.75,123.52 500.00,123.59 500.25,123.64 500.50,123.68 500.75,123.70 501.00,123.73 501.25,123.74 501.50,123.76 501.75,123.77 502.00,123.77 502.25,123.78 502.50,123.79 502.75,123.79 503.00,123.79 503.25,123.79 503.50,123.79 503.75,123.80 504.00,123.80 504.25,123.80 504.50,123.80 504.75,123.80 505.00,123.80 505.25,123.80 505.50,123.80 505.75,123.80 506.00,123.80 506.25,123.80 506.50,123.80 506.75,123.80 507.00,123.80 507.25,123.80 507.50,123.80 507.75,123.80 508.00,123.80 508.25,123.80 508.50,123.80 508.75,123.80 509.00,123.80 509.25,123.80 509.50,123.80 509.75,123.80 510.00,123.80 510.25,123.80 510.50,123.80 510.75,123.80 511.00,123.80 511.25,123.80 511.50,123.80 511.75,123.80 512.00,123.80 512.25,123.80 512.50,123.80 512.75,123.80 513.00,123.80 513.25,123.80 513.50,123.80 513.75,123.80 514.00,123.80 514.25,123.80 514.50,123.80 514.75,123.80 515.00,123.80 515.25,123.80 515.50,123.80 515.75,123.80 516.00,123.80 516.25,123.80 516.50,123.80 516.75,123.80 517.00,123.80 517.25,123.80 517.50,123.80 517.75,123.80 518.00,123.80 518.25,123.80 518.50,123.80 518.75,123.80 519.00,123.80 519.25,123.80 519.50,123.80 519.75,123.80 520.00,123.80 520.25,123.80 520.50,123.80 520.75,123.80 521.00,123.80 521.25,123.80 521.50,123.80 521.75,123.80 522.00,123.80 522.25,123.80 522.50,123.80 522.75,123.80 523.00,123.80 523.25,123.80 523.50,123.80 523.75,123.80 524.00,123.80 524.25,123.80 524.50,123.80 524.75,123.80 525.00,123.80 525.25,123.80 525.50,123.80 525.75,123.80 526.00,123.80 526.25,123.80 526.50,123.80 526.75,123.80 527.00,123.80 527.25,123.80 527.50,123.80 527.75,123.80 528.00,123.80 528.25,123.80 528.50,123.80 528.75,123.80 529.00,123.80 529.25,123.80 529.50,123.80 529.75,123.80 530.00,123.80 530.25,123.80 530.50,123.80 530.75,123.80 531.00,123.80 531.25,123.80 531.50,123.80 531.75,123.80 532.00,123.80 532.25,123.80 532.50,123.80 532.75,123.80 533.00,123.80 533.25,123.80 533.50,123.80 533.75,123.80 534.00,123.80 534.25,123.80 534.50,123.80 534.75,123.80 535.00,123.80 535.25,123.80 535.50,123.80 535.75,123.80 536.00,123.80 536.25,123.80 536.50,123.80 536.75,123.80 537.00,123.80 537.25,123.80 537.50,123.80 537.75,123.80 538.00,123.80 538.25,123.80 538.50,123.80 538.75,123.80 539.00,123.80 539.25,123.80 539.50,123.80 539.75,123.80 540.00,123.80 540.25,123.80 540.50,123.80 540.75,123.80 541.00,123.80 541.25,123.80 541.50,123.80 541.75,123.80 542.00,123.80 542.25,123.80 542.50,123.80 542.75,123.80 543.00,123.80 543.25,123.80 543.50,123.80 543.75,123.80 544.00,123.80 544.25,123.80 544.50,123.80 544.75,123.80 545.00,123.80 545.25,123.80 545.50,123.80 545.75,123.80 546.00,123.80 546.25,123.80 546.50,123.80" fill="none" stroke="#1e1ed4" stroke-width="1.2" stroke-linejoin="round"/>
<line x1="85.9" y1="124.5" x2="85.9" y2="129.4" stroke="#9a9ad8" stroke-width="1"/>
<rect x="68.5" y="129.4" width="35.0" height="28.9" fill="#fff" stroke="#9a9ad8" stroke-width="1"/>
<text x="71.5" y="142.4" font-family="Liberation Serif, serif" font-size="11.9" fill="#1a1a1a" stroke="#1a1a1a" stroke-width="0.3">16</text>
<text x="71.5" y="155.5" font-family="Liberation Serif, serif" font-size="11.9" fill="#1a1a1a" stroke="#1a1a1a" stroke-width="0.3">42063</text>
<line x1="142.3" y1="124.5" x2="142.3" y2="129.7" stroke="#9a9ad8" stroke-width="1"/>
<line x1="158.7" y1="124.5" x2="158.7" y2="163.0" stroke="#9a9ad8" stroke-width="1"/>
<rect x="125.7" y="129.7" width="33.9" height="28.2" fill="#fff" stroke="#9a9ad8" stroke-width="1"/>
<text x="128.7" y="142.7" font-family="Liberation Serif, serif" font-size="11.9" fill="#1a1a1a" stroke="#1a1a1a" stroke-width="0.3">7</text>
<text x="128.7" y="155.8" font-family="Liberation Serif, serif" font-size="11.9" fill="#1a1a1a" stroke="#1a1a1a" stroke-width="0.3">19506</text>
<rect x="141.4" y="163.0" width="35.2" height="28.6" fill="#fff" stroke="#9a9ad8" stroke-width="1"/>
<text x="144.4" y="176.0" font-family="Liberation Serif, serif" font-size="11.9" fill="#1a1a1a" stroke="#1a1a1a" stroke-width="0.3">9.3</text>
<text x="144.4" y="189.1" font-family="Liberation Serif, serif" font-size="11.9" fill="#1a1a1a" stroke="#1a1a1a" stroke-width="0.3">22844</text>
<line x1="223.6" y1="124.5" x2="223.6" y2="129.5" stroke="#9a9ad8" stroke-width="1"/>
<line x1="232.1" y1="124.5" x2="232.1" y2="162.6" stroke="#9a9ad8" stroke-width="1"/>
<rect x="205.7" y="129.5" width="35.1" height="28.8" fill="#fff" stroke="#9a9ad8" stroke-width="1"/>
<text x="208.7" y="142.5" font-family="Liberation Serif, serif" font-size="11.9" fill="#1a1a1a" stroke="#1a1a1a" stroke-width="0.3">29</text>
<text x="208.7" y="155.6" font-family="Liberation Serif, serif" font-size="11.9" fill="#1a1a1a" stroke="#1a1a1a" stroke-width="0.3">28097</text>
<rect x="214.8" y="162.6" width="34.8" height="28.6" fill="#fff" stroke="#9a9ad8" stroke-width="1"/>
<text x="217.8" y="175.6" font-family="Liberation Serif, serif" font-size="11.9" fill="#1a1a1a" stroke="#1a1a1a" stroke-width="0.3">30.2</text>
<text x="217.8" y="188.7" font-family="Liberation Serif, serif" font-size="11.9" fill="#1a1a1a" stroke="#1a1a1a" stroke-width="0.3">23447</text>
<line x1="324.2" y1="124.8" x2="324.2" y2="129.7" stroke="#9a9ad8" stroke-width="1"/>
<line x1="329.8" y1="124.8" x2="329.8" y2="163.6" stroke="#9a9ad8" stroke-width="1"/>
<rect x="306.7" y="129.7" width="34.4" height="29.0" fill="#fff" stroke="#9a9ad8" stroke-width="1"/>
<text x="309.7" y="142.7" font-family="Liberation Serif, serif" font-size="11.9" fill="#1a1a1a" stroke="#1a1a1a" stroke-width="0.3">12</text>
<text x="309.7" y="155.8" font-family="Liberation Serif, serif" font-size="11.9" fill="#1a1a1a" stroke="#1a1a1a" stroke-width="0.3">34378</text>
<rect x="312.5" y="163.6" width="34.8" height="28.6" fill="#fff" stroke="#9a9ad8" stroke-width="1"/>
<text x="315.5" y="176.6" font-family="Liberation Serif, serif" font-size="11.9" fill="#1a1a1a" stroke="#1a1a1a" stroke-width="0.3">13</text>
<text x="315.5" y="189.7" font-family="Liberation Serif, serif" font-size="11.9" fill="#1a1a1a" stroke="#1a1a1a" stroke-width="0.3">30325</text>
<line x1="482.3" y1="124.8" x2="482.3" y2="129.7" stroke="#9a9ad8" stroke-width="1"/>
<line x1="497.4" y1="124.8" x2="497.4" y2="163.6" stroke="#9a9ad8" stroke-width="1"/>
<rect x="464.8" y="129.7" width="35.4" height="29.0" fill="#fff" stroke="#9a9ad8" stroke-width="1"/>
<text x="467.8" y="142.7" font-family="Liberation Serif, serif" font-size="11.9" fill="#1a1a1a" stroke="#1a1a1a" stroke-width="0.3">10</text>
<text x="467.8" y="155.8" font-family="Liberation Serif, serif" font-size="11.9" fill="#1a1a1a" stroke="#1a1a1a" stroke-width="0.3">35634</text>
<rect x="479.5" y="163.6" width="35.8" height="28.6" fill="#fff" stroke="#9a9ad8" stroke-width="1"/>
<text x="482.5" y="176.6" font-family="Liberation Serif, serif" font-size="11.9" fill="#1a1a1a" stroke="#1a1a1a" stroke-width="0.3">12</text>
<text x="482.5" y="189.7" font-family="Liberation Serif, serif" font-size="11.9" fill="#1a1a1a" stroke="#1a1a1a" stroke-width="0.3">27846</text>
<polyline points="5.7,414.4 5.7,222.9 284.4,222.9" fill="none" stroke="#333" stroke-width="1.0"/>
<polyline points="284.4,223.4 546.3,223.4" fill="none" stroke="#000" stroke-width="1.5"/>
<polyline points="546.3,222.8 546.3,417.7 285,416.3 5.2,414.4" fill="none" stroke="#111" stroke-width="1.2"/>
<rect x="8.5" y="229.3" width="25.2" height="27.3" fill="#fff" stroke="#111" stroke-width="1"/>
<text x="21.1" y="248.1" font-family="Liberation Sans, sans-serif" font-size="14.0" text-anchor="middle" fill="#111" stroke="#111" stroke-width="0.4">B</text>
<rect x="36.5" y="226.0" width="245.3" height="11.6" fill="#c3c3c3" stroke="#6a6a6a" stroke-width="1"/>
<line x1="116.5" y1="226.0" x2="116.5" y2="237.6" stroke="#555" stroke-width="1"/>
<line x1="183.6" y1="226.0" x2="183.6" y2="237.6" stroke="#555" stroke-width="1"/>
<rect x="286.9" y="228.0" width="128.7" height="11.4" fill="#c3c3c3" stroke="#6a6a6a" stroke-width="1"/>
<rect x="428.1" y="228.2" width="118.2" height="11.0" fill="#c3c3c3" stroke="#6a6a6a" stroke-width="1"/>
<text x="77.75" y="235.4" font-family="Liberation Sans, sans-serif" font-size="10.1" text-anchor="middle" textLength="39.4" lengthAdjust="spacingAndGlyphs" fill="#222" stroke="#222" stroke-width="0.3">D3S1358</text>
<text x="151.40" y="235.4" font-family="Liberation Sans, sans-serif" font-size="10.1" text-anchor="middle" textLength="22.3" lengthAdjust="spacingAndGlyphs" fill="#222" stroke="#222" stroke-width="0.3">TH01</text>
<text x="234.35" y="235.4" font-family="Liberation Sans, sans-serif" font-size="10.1" text-anchor="middle" textLength="33.0" lengthAdjust="spacingAndGlyphs" fill="#222" stroke="#222" stroke-width="0.3">D21S11</text>
<text x="352.25" y="237.3" font-family="Liberation Sans, sans-serif" font-size="10.1" text-anchor="middle" textLength="34.8" lengthAdjust="spacingAndGlyphs" fill="#222" stroke="#222" stroke-width="0.3">D18S51</text>
<text x="516.60" y="237.4" font-family="Liberation Sans, sans-serif" font-size="10.1" text-anchor="middle" textLength="34.1" lengthAdjust="spacingAndGlyphs" fill="#222" stroke="#222" stroke-width="0.3">Penta E</text>
<line x1="53.60" y1="255.6" x2="53.60" y2="340.5" stroke="#d6d6d6" stroke-width="1.6"/>
<line x1="59.50" y1="255.6" x2="59.50" y2="340.5" stroke="#d6d6d6" stroke-width="1.6"/>
<line x1="65.90" y1="255.6" x2="65.90" y2="340.5" stroke="#d6d6d6" stroke-width="1.6"/>
<line x1="72.30" y1="255.6" x2="72.30" y2="340.5" stroke="#d6d6d6" stroke-width="1.6"/>
<line x1="78.40" y1="255.6" x2="78.40" y2="340.5" stroke="#d6d6d6" stroke-width="1.6"/>
<line x1="81.40" y1="255.6" x2="81.40" y2="340.5" stroke="#d6d6d6" stroke-width="1.6"/>
<line x1="84.70" y1="255.6" x2="84.70" y2="340.5" stroke="#d6d6d6" stroke-width="1.6"/>
<line x1="90.90" y1="255.6" x2="90.90" y2="340.5" stroke="#d6d6d6" stroke-width="1.6"/>
<line x1="96.80" y1="255.6" x2="96.80" y2="340.5" stroke="#d6d6d6" stroke-width="1.6"/>
<line x1="102.70" y1="255.6" x2="102.70" y2="340.5" stroke="#d6d6d6" stroke-width="1.6"/>
<line x1="108.80" y1="255.6" x2="108.80" y2="340.5" stroke="#d6d6d6" stroke-width="1.6"/>
<line x1="114.80" y1="255.6" x2="114.80" y2="340.5" stroke="#d6d6d6" stroke-width="1.6"/>
<line x1="122.30" y1="255.6" x2="122.30" y2="340.5" stroke="#d6d6d6" stroke-width="1.6"/>
<line x1="128.20" y1="255.6" x2="128.20" y2="340.5" stroke="#d6d6d6" stroke-width="1.6"/>
<line x1="134.10" y1="255.6" x2="134.10" y2="340.5" stroke="#d6d6d6" stroke-width="1.6"/>
<line x1="139.80" y1="255.6" x2="139.80" y2="340.5" stroke="#d6d6d6" stroke-width="1.6"/>
<line x1="145.90" y1="255.6" x2="145.90" y2="340.5" stroke="#d6d6d6" stroke-width="1.6"/>
<line x1="151.80" y1="255.6" x2="151.80" y2="340.5" stroke="#d6d6d6" stroke-width="1.6"/>
<line x1="155.50" y1="255.6" x2="155.50" y2="340.5" stroke="#d6d6d6" stroke-width="1.6"/>
<line x1="158.20" y1="255.6" x2="158.20" y2="340.5" stroke="#d6d6d6" stroke-width="1.6"/>
<line x1="163.50" y1="255.6" x2="163.50" y2="340.5" stroke="#d6d6d6" stroke-width="1.6"/>
<line x1="179.50" y1="255.6" x2="179.50" y2="340.5" stroke="#d6d6d6" stroke-width="1.6"/>
<line x1="185.80" y1="255.6" x2="185.80" y2="340.5" stroke="#d6d6d6" stroke-width="1.6"/>
<line x1="188.78" y1="255.6" x2="188.78" y2="340.5" stroke="#d6d6d6" stroke-width="1.6"/>
<line x1="191.75" y1="255.6" x2="191.75" y2="340.5" stroke="#d6d6d6" stroke-width="1.6"/>
<line x1="194.73" y1="255.6" x2="194.73" y2="340.5" stroke="#d6d6d6" stroke-width="1.6"/>
<line x1="197.71" y1="255.6" x2="197.71" y2="340.5" stroke="#d6d6d6" stroke-width="1.6"/>
<line x1="200.69" y1="255.6" x2="200.69" y2="340.5" stroke="#d6d6d6" stroke-width="1.6"/>
<line x1="203.66" y1="255.6" x2="203.66" y2="340.5" stroke="#d6d6d6" stroke-width="1.6"/>
<line x1="206.64" y1="255.6" x2="206.64" y2="340.5" stroke="#d6d6d6" stroke-width="1.6"/>
<line x1="209.62" y1="255.6" x2="209.62" y2="340.5" stroke="#d6d6d6" stroke-width="1.6"/>
<line x1="212.59" y1="255.6" x2="212.59" y2="340.5" stroke="#d6d6d6" stroke-width="1.6"/>
<line x1="215.57" y1="255.6" x2="215.57" y2="340.5" stroke="#d6d6d6" stroke-width="1.6"/>
<line x1="218.55" y1="255.6" x2="218.55" y2="340.5" stroke="#d6d6d6" stroke-width="1.6"/>
<line x1="221.52" y1="255.6" x2="221.52" y2="340.5" stroke="#d6d6d6" stroke-width="1.6"/>
<line x1="224.50" y1="255.6" x2="224.50" y2="340.5" stroke="#d6d6d6" stroke-width="1.6"/>
<line x1="227.48" y1="255.6" x2="227.48" y2="340.5" stroke="#d6d6d6" stroke-width="1.6"/>
<line x1="230.46" y1="255.6" x2="230.46" y2="340.5" stroke="#d6d6d6" stroke-width="1.6"/>
<line x1="233.43" y1="255.6" x2="233.43" y2="340.5" stroke="#d6d6d6" stroke-width="1.6"/>
<line x1="236.41" y1="255.6" x2="236.41" y2="340.5" stroke="#d6d6d6" stroke-width="1.6"/>
<line x1="239.39" y1="255.6" x2="239.39" y2="340.5" stroke="#d6d6d6" stroke-width="1.6"/>
<line x1="242.36" y1="255.6" x2="242.36" y2="340.5" stroke="#d6d6d6" stroke-width="1.6"/>
<line x1="245.34" y1="255.6" x2="245.34" y2="340.5" stroke="#d6d6d6" stroke-width="1.6"/>
<line x1="248.32" y1="255.6" x2="248.32" y2="340.5" stroke="#d6d6d6" stroke-width="1.6"/>
<line x1="251.29" y1="255.6" x2="251.29" y2="340.5" stroke="#d6d6d6" stroke-width="1.6"/>
<line x1="254.27" y1="255.6" x2="254.27" y2="340.5" stroke="#d6d6d6" stroke-width="1.6"/>
<line x1="257.25" y1="255.6" x2="257.25" y2="340.5" stroke="#d6d6d6" stroke-width="1.6"/>
<line x1="260.23" y1="255.6" x2="260.23" y2="340.5" stroke="#d6d6d6" stroke-width="1.6"/>
<line x1="263.20" y1="255.6" x2="263.20" y2="340.5" stroke="#d6d6d6" stroke-width="1.6"/>
<line x1="266.18" y1="255.6" x2="266.18" y2="340.5" stroke="#d6d6d6" stroke-width="1.6"/>
<line x1="269.16" y1="255.6" x2="269.16" y2="340.5" stroke="#d6d6d6" stroke-width="1.6"/>
<line x1="272.13" y1="255.6" x2="272.13" y2="340.5" stroke="#d6d6d6" stroke-width="1.6"/>
<line x1="275.11" y1="255.6" x2="275.11" y2="340.5" stroke="#d6d6d6" stroke-width="1.6"/>
<line x1="278.09" y1="255.6" x2="278.09" y2="340.5" stroke="#d6d6d6" stroke-width="1.6"/>
<line x1="35.3" y1="255.60" x2="284.4" y2="255.60" stroke="#505050" stroke-width="1"/>
<line x1="35.3" y1="341.40" x2="284.4" y2="341.40" stroke="#14145a" stroke-width="1.0"/>
<line x1="49.80" y1="253.6" x2="49.80" y2="258.1" stroke="#505050" stroke-width="1"/>
<line x1="101.60" y1="253.6" x2="101.60" y2="258.1" stroke="#505050" stroke-width="1"/>
<line x1="153.50" y1="253.6" x2="153.50" y2="258.1" stroke="#505050" stroke-width="1"/>
<line x1="205.40" y1="253.6" x2="205.40" y2="258.1" stroke="#505050" stroke-width="1"/>
<line x1="257.30" y1="253.6" x2="257.30" y2="258.1" stroke="#505050" stroke-width="1"/>
<text x="49.9" y="251.4" font-family="Liberation Sans, sans-serif" font-size="8.2" text-anchor="middle" fill="#222" stroke="#222" stroke-width="0.25">105</text>
<text x="153.6" y="251.4" font-family="Liberation Sans, sans-serif" font-size="8.2" text-anchor="middle" fill="#222" stroke="#222" stroke-width="0.25">175</text>
<text x="257.2" y="251.4" font-family="Liberation Sans, sans-serif" font-size="8.2" text-anchor="middle" fill="#222" stroke="#222" stroke-width="0.25">245</text>
<line x1="35.3" y1="255.6" x2="35.3" y2="341.5" stroke="#505050" stroke-width="1"/>
<line x1="32.8" y1="262.00" x2="37.3" y2="262.00" stroke="#505050" stroke-width="0.9"/>
<line x1="32.8" y1="273.23" x2="37.3" y2="273.23" stroke="#505050" stroke-width="0.9"/>
<line x1="32.8" y1="284.46" x2="37.3" y2="284.46" stroke="#505050" stroke-width="0.9"/>
<line x1="32.8" y1="295.69" x2="37.3" y2="295.69" stroke="#505050" stroke-width="0.9"/>
<line x1="32.8" y1="306.92" x2="37.3" y2="306.92" stroke="#505050" stroke-width="0.9"/>
<line x1="32.8" y1="318.15" x2="37.3" y2="318.15" stroke="#505050" stroke-width="0.9"/>
<line x1="32.8" y1="329.38" x2="37.3" y2="329.38" stroke="#505050" stroke-width="0.9"/>
<line x1="32.8" y1="340.61" x2="37.3" y2="340.61" stroke="#505050" stroke-width="0.9"/>
<text x="31.3" y="275.90" font-family="Liberation Sans, sans-serif" font-size="8" text-anchor="end" fill="#222" stroke="#222" stroke-width="0.25">5400</text>
<text x="31.3" y="297.70" font-family="Liberation Sans, sans-serif" font-size="8" text-anchor="end" fill="#222" stroke="#222" stroke-width="0.25">3600</text>
<text x="31.3" y="320.80" font-family="Liberation Sans, sans-serif" font-size="8" text-anchor="end" fill="#222" stroke="#222" stroke-width="0.25">1800</text>
<text x="31.3" y="343.50" font-family="Liberation Sans, sans-serif" font-size="8" text-anchor="end" fill="#222" stroke="#222" stroke-width="0.25">0</text>
<polyline points="35.30,340.35 35.55,340.35 35.80,340.34 36.05,340.33 36.30,340.32 36.55,340.30 36.80,340.29 37.05,340.28 37.30,340.27 37.55,340.26 37.80,340.24 38.05,340.23 38.30,340.22 38.55,340.20 38.80,340.19 39.05,340.17 39.30,340.16 39.55,340.14 39.80,340.12 40.05,340.11 40.30,340.09 40.55,340.07 40.80,340.06 41.05,340.04 41.30,340.02 41.55,340.00 41.80,339.98 42.05,339.97 42.30,339.95 42.55,339.93 42.80,339.91 43.05,339.89 43.30,339.87 43.55,339.85 43.80,339.83 44.05,339.81 44.30,339.80 44.55,339.78 44.80,339.76 45.05,339.74 45.30,339.72 45.55,339.71 45.80,339.69 46.05,339.67 46.30,339.66 46.55,339.64 46.80,339.63 47.05,339.61 47.30,339.60 47.55,339.59 47.80,339.58 48.05,339.57 48.30,339.56 48.55,339.55 48.80,339.54 49.05,339.53 49.30,339.52 49.55,339.52 49.80,339.51 50.05,339.51 50.30,339.50 50.55,339.50 50.80,339.50 51.05,339.50 51.30,339.50 51.55,339.50 51.80,339.50 52.05,339.51 52.30,339.51 52.55,339.52 52.80,339.52 53.05,339.53 53.30,339.54 53.55,339.55 53.80,339.56 54.05,339.57 54.30,339.58 54.55,339.59 54.80,339.61 55.05,339.62 55.30,339.63 55.55,339.65 55.80,339.66 56.05,339.68 56.30,339.70 56.55,339.71 56.80,339.73 57.05,339.75 57.30,339.77 57.55,339.78 57.80,339.80 58.05,339.82 58.30,339.84 58.55,339.86 58.80,339.88 59.05,339.90 59.30,339.92 59.55,339.94 59.80,339.95 60.05,339.97 60.30,339.99 60.55,340.01 60.80,340.03 61.05,340.05 61.30,340.06 61.55,340.08 61.80,340.10 62.05,340.11 62.30,340.13 62.55,340.15 62.80,340.16 63.05,340.18 63.30,340.19 63.55,340.21 63.80,340.22 64.05,340.24 64.30,340.25 64.55,340.26 64.80,340.27 65.05,340.29 65.30,340.30 65.55,340.31 65.80,340.32 66.05,340.33 66.30,340.34 66.55,340.35 66.80,340.36 67.05,340.37 67.30,340.37 67.55,340.38 67.80,340.39 68.05,340.40 68.30,340.40 68.55,340.41 68.80,340.42 69.05,340.42 69.30,340.43 69.55,340.43 69.80,340.44 70.05,340.44 70.30,340.44 70.55,340.45 70.80,340.45 71.05,340.45 71.30,340.46 71.55,340.46 71.80,340.46 72.05,340.46 72.30,340.46 72.55,340.45 72.80,340.44 73.05,340.43 73.30,340.42 73.55,340.39 73.80,340.36 74.05,340.31 74.30,340.25 74.55,340.18 74.80,340.08 75.05,339.96 75.30,339.84 75.55,339.70 75.80,339.56 76.05,339.43 76.30,339.31 76.55,339.21 76.80,339.11 77.05,339.02 77.30,338.88 77.55,338.46 77.80,337.14 78.05,334.84 78.30,333.39 78.55,334.81 78.80,337.09 79.05,338.38 79.30,338.76 79.55,338.85 79.80,338.87 80.05,338.88 80.30,338.88 80.55,338.87 80.80,338.84 81.05,338.81 81.30,338.75 81.55,338.68 81.80,338.58 82.05,338.46 82.30,338.28 82.55,338.06 82.80,337.75 83.05,337.30 83.30,336.36 83.55,333.45 83.80,324.75 84.05,305.77 84.30,279.67 84.55,262.10 84.60,261.10 84.80,270.64 85.05,295.75 85.30,318.84 85.55,331.43 85.80,336.19 86.05,337.76 86.30,338.46 86.55,338.92 86.80,339.28 87.05,339.57 87.30,339.79 87.55,339.96 87.80,340.09 88.05,340.19 88.30,340.27 88.55,340.32 88.80,340.37 89.05,340.40 89.30,340.43 89.55,340.44 89.80,340.46 90.05,340.47 90.30,340.48 90.55,340.48 90.80,340.49 91.05,340.49 91.30,340.49 91.55,340.49 91.80,340.50 92.05,340.50 92.30,340.50 92.55,340.50 92.80,340.50 93.05,340.50 93.30,340.50 93.55,340.50 93.80,340.50 94.05,340.50 94.30,340.50 94.55,340.50 94.80,340.50 95.05,340.50 95.30,340.50 95.55,340.50 95.80,340.50 96.05,340.50 96.30,340.50 96.55,340.50 96.80,340.50 97.05,340.50 97.30,340.50 97.55,340.50 97.80,340.50 98.05,340.50 98.30,340.50 98.55,340.50 98.80,340.50 99.05,340.50 99.30,340.50 99.55,340.50 99.80,340.50 100.05,340.50 100.30,340.50 100.55,340.50 100.80,340.50 101.05,340.50 101.30,340.50 101.55,340.50 101.80,340.50 102.05,340.50 102.30,340.50 102.55,340.50 102.80,340.50 103.05,340.50 103.30,340.50 103.55,340.50 103.80,340.50 104.05,340.50 104.30,340.50 104.55,340.50 104.80,340.50 105.05,340.50 105.30,340.50 105.55,340.50 105.80,340.50 106.05,340.50 106.30,340.50 106.55,340.50 106.80,340.50 107.05,340.50 107.30,340.50 107.55,340.50 107.80,340.50 108.05,340.50 108.30,340.50 108.55,340.50 108.80,340.50 109.05,340.50 109.30,340.50 109.55,340.50 109.80,340.50 110.05,340.50 110.30,340.50 110.55,340.50 110.80,340.50 111.05,340.50 111.30,340.50 111.55,340.50 111.80,340.50 112.05,340.50 112.30,340.50 112.55,340.50 112.80,340.50 113.05,340.50 113.30,340.50 113.55,340.50 113.80,340.50 114.05,340.50 114.30,340.50 114.55,340.50 114.80,340.50 115.05,340.50 115.30,340.50 115.55,340.50 115.80,340.50 116.05,340.50 116.30,340.50 116.55,340.50 116.80,340.50 117.05,340.50 117.30,340.50 117.55,340.50 117.80,340.50 118.05,340.50 118.30,340.50 118.55,340.50 118.80,340.50 119.05,340.50 119.30,340.50 119.55,340.50 119.80,340.50 120.05,340.50 120.30,340.50 120.55,340.50 120.80,340.50 121.05,340.50 121.30,340.50 121.55,340.50 121.80,340.50 122.05,340.50 122.30,340.50 122.55,340.50 122.80,340.50 123.05,340.50 123.30,340.50 123.55,340.50 123.80,340.50 124.05,340.50 124.30,340.50 124.55,340.50 124.80,340.50 125.05,340.50 125.30,340.50 125.55,340.50 125.80,340.50 126.05,340.50 126.30,340.50 126.55,340.50 126.80,340.50 127.05,340.50 127.30,340.50 127.55,340.50 127.80,340.50 128.05,340.50 128.30,340.50 128.55,340.50 128.80,340.50 129.05,340.50 129.30,340.50 129.55,340.50 129.80,340.50 130.05,340.50 130.30,340.50 130.55,340.50 130.80,340.50 131.05,340.50 131.30,340.50 131.55,340.50 131.80,340.50 132.05,340.50 132.30,340.50 132.55,340.50 132.80,340.50 133.05,340.50 133.30,340.50 133.55,340.50 133.80,340.50 134.05,340.50 134.30,340.49 134.55,340.49 134.80,340.49 135.05,340.49 135.30,340.48 135.55,340.48 135.80,340.47 136.05,340.46 136.30,340.45 136.55,340.43 136.80,340.40 137.05,340.37 137.30,340.33 137.55,340.28 137.80,340.21 138.05,340.12 138.30,339.98 138.55,339.73 138.80,338.99 139.05,336.72 139.30,331.36 139.55,323.19 139.80,316.55 139.90,315.60 140.05,317.46 140.30,324.89 140.55,332.72 140.80,337.37 141.05,339.22 141.30,339.80 141.55,340.01 141.80,340.14 142.05,340.23 142.30,340.29 142.55,340.34 142.80,340.38 143.05,340.41 143.30,340.43 143.55,340.45 143.80,340.46 144.05,340.47 144.30,340.48 144.55,340.48 144.80,340.49 145.05,340.49 145.30,340.49 145.55,340.49 145.80,340.50 146.05,340.50 146.30,340.50 146.55,340.50 146.80,340.50 147.05,340.50 147.30,340.50 147.55,340.50 147.80,340.50 148.05,340.50 148.30,340.50 148.55,340.50 148.80,340.50 149.05,340.50 149.30,340.50 149.55,340.50 149.80,340.50 150.05,340.50 150.30,340.50 150.55,340.50 150.80,340.50 151.05,340.49 151.30,340.49 151.55,340.49 151.80,340.49 152.05,340.48 152.30,340.48 152.55,340.47 152.80,340.46 153.05,340.44 153.30,340.43 153.55,340.40 153.80,340.37 154.05,340.33 154.30,340.28 154.55,340.20 154.80,340.11 155.05,339.97 155.30,339.67 155.55,338.77 155.80,336.08 156.05,330.21 156.30,322.15 156.55,316.71 156.60,316.40 156.80,319.33 157.05,327.05 157.30,334.15 157.55,338.00 157.80,339.43 158.05,339.88 158.30,340.06 158.55,340.17 158.80,340.25 159.05,340.31 159.30,340.36 159.55,340.39 159.80,340.42 160.05,340.44 160.30,340.45 160.55,340.46 160.80,340.47 161.05,340.48 161.30,340.48 161.55,340.49 161.80,340.49 162.05,340.49 162.30,340.49 162.55,340.50 162.80,340.50 163.05,340.50 163.30,340.50 163.55,340.50 163.80,340.50 164.05,340.50 164.30,340.50 164.55,340.50 164.80,340.50 165.05,340.50 165.30,340.50 165.55,340.50 165.80,340.50 166.05,340.50 166.30,340.50 166.55,340.50 166.80,340.50 167.05,340.50 167.30,340.50 167.55,340.50 167.80,340.50 168.05,340.50 168.30,340.50 168.55,340.50 168.80,340.50 169.05,340.50 169.30,340.50 169.55,340.50 169.80,340.50 170.05,340.50 170.30,340.50 170.55,340.50 170.80,340.50 171.05,340.50 171.30,340.50 171.55,340.50 171.80,340.50 172.05,340.50 172.30,340.50 172.55,340.50 172.80,340.50 173.05,340.50 173.30,340.50 173.55,340.50 173.80,340.50 174.05,340.50 174.30,340.50 174.55,340.50 174.80,340.50 175.05,340.50 175.30,340.50 175.55,340.50 175.80,340.50 176.05,340.50 176.30,340.50 176.55,340.50 176.80,340.50 177.05,340.50 177.30,340.50 177.55,340.50 177.80,340.50 178.05,340.50 178.30,340.50 178.55,340.50 178.80,340.50 179.05,340.50 179.30,340.50 179.55,340.50 179.80,340.50 180.05,340.50 180.30,340.50 180.55,340.50 180.80,340.50 181.05,340.50 181.30,340.50 181.55,340.50 181.80,340.50 182.05,340.50 182.30,340.50 182.55,340.50 182.80,340.50 183.05,340.50 183.30,340.50 183.55,340.50 183.80,340.50 184.05,340.50 184.30,340.50 184.55,340.50 184.80,340.50 185.05,340.50 185.30,340.50 185.55,340.50 185.80,340.50 186.05,340.50 186.30,340.50 186.55,340.50 186.80,340.50 187.05,340.50 187.30,340.50 187.55,340.50 187.80,340.50 188.05,340.50 188.30,340.50 188.55,340.50 188.80,340.50 189.05,340.50 189.30,340.50 189.55,340.50 189.80,340.50 190.05,340.50 190.30,340.50 190.55,340.50 190.80,340.50 191.05,340.50 191.30,340.50 191.55,340.50 191.80,340.50 192.05,340.50 192.30,340.50 192.55,340.50 192.80,340.50 193.05,340.50 193.30,340.50 193.55,340.50 193.80,340.50 194.05,340.50 194.30,340.50 194.55,340.50 194.80,340.50 195.05,340.50 195.30,340.50 195.55,340.50 195.80,340.50 196.05,340.50 196.30,340.50 196.55,340.50 196.80,340.50 197.05,340.50 197.30,340.50 197.55,340.50 197.80,340.50 198.05,340.50 198.30,340.50 198.55,340.50 198.80,340.50 199.05,340.50 199.30,340.50 199.55,340.50 199.80,340.50 200.05,340.50 200.30,340.50 200.55,340.50 200.80,340.50 201.05,340.50 201.30,340.50 201.55,340.50 201.80,340.50 202.05,340.50 202.30,340.50 202.55,340.50 202.80,340.50 203.05,340.50 203.30,340.50 203.55,340.50 203.80,340.50 204.05,340.50 204.30,340.50 204.55,340.50 204.80,340.50 205.05,340.50 205.30,340.50 205.55,340.50 205.80,340.50 206.05,340.50 206.30,340.49 206.55,340.49 206.80,340.49 207.05,340.49 207.30,340.48 207.55,340.48 207.80,340.47 208.05,340.46 208.30,340.44 208.55,340.42 208.80,340.39 209.05,340.36 209.30,340.32 209.55,340.26 209.80,340.20 210.05,340.13 210.30,340.06 210.55,339.98 210.80,339.89 211.05,339.82 211.30,339.74 211.55,339.67 211.80,339.61 212.05,339.54 212.30,339.39 212.55,338.87 212.80,337.62 213.05,336.46 213.10,336.39 213.30,337.02 213.55,338.40 213.80,339.17 214.05,339.37 214.30,339.40 214.55,339.40 214.80,339.39 215.05,339.37 215.30,339.34 215.55,339.30 215.80,339.24 216.05,339.16 216.30,339.05 216.55,338.90 216.80,338.71 217.05,338.46 217.30,338.06 217.55,337.16 217.80,334.31 218.05,326.19 218.30,309.89 218.55,289.86 218.80,279.20 219.05,289.85 219.30,309.89 219.55,326.18 219.80,334.29 220.05,337.13 220.30,338.02 220.55,338.40 220.80,338.63 221.05,338.76 221.30,338.64 221.55,337.75 221.80,336.05 222.00,335.28 222.05,335.38 222.30,336.88 222.55,338.49 222.80,339.14 223.05,339.30 223.30,339.34 223.55,339.36 223.80,339.37 224.05,339.36 224.30,339.35 224.55,339.31 224.80,339.27 225.05,339.20 225.30,339.12 225.55,339.00 225.80,338.84 226.05,338.63 226.30,338.35 226.55,337.94 226.80,337.08 227.05,334.44 227.30,326.58 227.55,309.44 227.80,285.89 228.05,270.01 228.10,269.10 228.30,277.66 228.55,300.23 228.80,320.99 229.05,332.27 229.30,336.49 229.55,337.85 229.80,338.45 230.05,338.85 230.30,339.18 230.55,339.47 230.80,339.70 231.05,339.90 231.30,340.05 231.55,340.17 231.80,340.26 232.05,340.32 232.30,340.37 232.55,340.41 232.80,340.43 233.05,340.45 233.30,340.46 233.55,340.47 233.80,340.48 234.05,340.49 234.30,340.49 234.55,340.49 234.80,340.49 235.05,340.50 235.30,340.50 235.55,340.50 235.80,340.50 236.05,340.50 236.30,340.50 236.55,340.50 236.80,340.50 237.05,340.50 237.30,340.50 237.55,340.50 237.80,340.50 238.05,340.50 238.30,340.50 238.55,340.50 238.80,340.50 239.05,340.50 239.30,340.50 239.55,340.50 239.80,340.50 240.05,340.50 240.30,340.50 240.55,340.50 240.80,340.50 241.05,340.50 241.30,340.50 241.55,340.50 241.80,340.50 242.05,340.50 242.30,340.50 242.55,340.50 242.80,340.50 243.05,340.50 243.30,340.50 243.55,340.50 243.80,340.50 244.05,340.50 244.30,340.50 244.55,340.50 244.80,340.50 245.05,340.50 245.30,340.50 245.55,340.50 245.80,340.50 246.05,340.50 246.30,340.50 246.55,340.50 246.80,340.50 247.05,340.50 247.30,340.50 247.55,340.50 247.80,340.50 248.05,340.50 248.30,340.50 248.55,340.50 248.80,340.50 249.05,340.50 249.30,340.50 249.55,340.50 249.80,340.50 250.05,340.50 250.30,340.50 250.55,340.50 250.80,340.50 251.05,340.50 251.30,340.50 251.55,340.50 251.80,340.50 252.05,340.50 252.30,340.50 252.55,340.50 252.80,340.50 253.05,340.50 253.30,340.50 253.55,340.50 253.80,340.50 254.05,340.50 254.30,340.50 254.55,340.50 254.80,340.50 255.05,340.50 255.30,340.50 255.55,340.50 255.80,340.50 256.05,340.50 256.30,340.50 256.55,340.50 256.80,340.50 257.05,340.50 257.30,340.50 257.55,340.50 257.80,340.50 258.05,340.50 258.30,340.50 258.55,340.50 258.80,340.50 259.05,340.50 259.30,340.50 259.55,340.50 259.80,340.50 260.05,340.50 260.30,340.50 260.55,340.50 260.80,340.50 261.05,340.50 261.30,340.50 261.55,340.50 261.80,340.50 262.05,340.50 262.30,340.50 262.55,340.50 262.80,340.50 263.05,340.50 263.30,340.50 263.55,340.50 263.80,340.50 264.05,340.50 264.30,340.50 264.55,340.50 264.80,340.50 265.05,340.50 265.30,340.50 265.55,340.50 265.80,340.50 266.05,340.50 266.30,340.50 266.55,340.50 266.80,340.50 267.05,340.50 267.30,340.50 267.55,340.50 267.80,340.50 268.05,340.50 268.30,340.50 268.55,340.50 268.80,340.50 269.05,340.50 269.30,340.50 269.55,340.50 269.80,340.50 270.05,340.50 270.30,340.50 270.55,340.50 270.80,340.50 271.05,340.50 271.30,340.50 271.55,340.50 271.80,340.50 272.05,340.50 272.30,340.50 272.55,340.50 272.80,340.50 273.05,340.50 273.30,340.50 273.55,340.50 273.80,340.50 274.05,340.50 274.30,340.50 274.55,340.50 274.80,340.50 275.05,340.50 275.30,340.50 275.55,340.50 275.80,340.50 276.05,340.50 276.30,340.50 276.55,340.50 276.80,340.50 277.05,340.50 277.30,340.50 277.55,340.50 277.80,340.50 278.05,340.50 278.30,340.50 278.55,340.50 278.80,340.50 279.05,340.50 279.30,340.50 279.55,340.50 279.80,340.50 280.05,340.50 280.30,340.50 280.55,340.50 280.80,340.50 281.05,340.50 281.30,340.50 281.55,340.50 281.80,340.50 282.05,340.50 282.30,340.50 282.55,340.50 282.80,340.50 283.05,340.50 283.30,340.50 283.55,340.50 283.80,340.50 284.05,340.50 284.30,340.50" fill="none" stroke="#1e1ed4" stroke-width="1.2" stroke-linejoin="round"/>
<line x1="295.20" y1="257.0" x2="295.20" y2="340.5" stroke="#d6d6d6" stroke-width="1.6"/>
<line x1="301.10" y1="257.0" x2="301.10" y2="340.5" stroke="#d6d6d6" stroke-width="1.6"/>
<line x1="303.80" y1="257.0" x2="303.80" y2="340.5" stroke="#d6d6d6" stroke-width="1.6"/>
<line x1="306.70" y1="257.0" x2="306.70" y2="340.5" stroke="#d6d6d6" stroke-width="1.6"/>
<line x1="309.70" y1="257.0" x2="309.70" y2="340.5" stroke="#d6d6d6" stroke-width="1.6"/>
<line x1="312.70" y1="257.0" x2="312.70" y2="340.5" stroke="#d6d6d6" stroke-width="1.6"/>
<line x1="318.40" y1="257.0" x2="318.40" y2="340.5" stroke="#d6d6d6" stroke-width="1.6"/>
<line x1="324.00" y1="257.0" x2="324.00" y2="340.5" stroke="#d6d6d6" stroke-width="1.6"/>
<line x1="327.00" y1="257.0" x2="327.00" y2="340.5" stroke="#d6d6d6" stroke-width="1.6"/>
<line x1="330.00" y1="257.0" x2="330.00" y2="340.5" stroke="#d6d6d6" stroke-width="1.6"/>
<line x1="333.00" y1="257.0" x2="333.00" y2="340.5" stroke="#d6d6d6" stroke-width="1.6"/>
<line x1="336.00" y1="257.0" x2="336.00" y2="340.5" stroke="#d6d6d6" stroke-width="1.6"/>
<line x1="341.60" y1="257.0" x2="341.60" y2="340.5" stroke="#d6d6d6" stroke-width="1.6"/>
<line x1="347.50" y1="257.0" x2="347.50" y2="340.5" stroke="#d6d6d6" stroke-width="1.6"/>
<line x1="353.50" y1="257.0" x2="353.50" y2="340.5" stroke="#d6d6d6" stroke-width="1.6"/>
<line x1="358.90" y1="257.0" x2="358.90" y2="340.5" stroke="#d6d6d6" stroke-width="1.6"/>
<line x1="362.10" y1="257.0" x2="362.10" y2="340.5" stroke="#d6d6d6" stroke-width="1.6"/>
<line x1="364.80" y1="257.0" x2="364.80" y2="340.5" stroke="#d6d6d6" stroke-width="1.6"/>
<line x1="370.70" y1="257.0" x2="370.70" y2="340.5" stroke="#d6d6d6" stroke-width="1.6"/>
<line x1="377.00" y1="257.0" x2="377.00" y2="340.5" stroke="#d6d6d6" stroke-width="1.6"/>
<line x1="382.70" y1="257.0" x2="382.70" y2="340.5" stroke="#d6d6d6" stroke-width="1.6"/>
<line x1="388.80" y1="257.0" x2="388.80" y2="340.5" stroke="#d6d6d6" stroke-width="1.6"/>
<line x1="394.70" y1="257.0" x2="394.70" y2="340.5" stroke="#d6d6d6" stroke-width="1.6"/>
<line x1="400.60" y1="257.0" x2="400.60" y2="340.5" stroke="#d6d6d6" stroke-width="1.6"/>
<line x1="406.40" y1="257.0" x2="406.40" y2="340.5" stroke="#d6d6d6" stroke-width="1.6"/>
<line x1="431.80" y1="257.0" x2="431.80" y2="340.5" stroke="#d6d6d6" stroke-width="1.6"/>
<line x1="439.80" y1="257.0" x2="439.80" y2="340.5" stroke="#d6d6d6" stroke-width="1.6"/>
<line x1="447.70" y1="257.0" x2="447.70" y2="340.5" stroke="#d6d6d6" stroke-width="1.6"/>
<line x1="455.90" y1="257.0" x2="455.90" y2="340.5" stroke="#d6d6d6" stroke-width="1.6"/>
<line x1="464.10" y1="257.0" x2="464.10" y2="340.5" stroke="#d6d6d6" stroke-width="1.6"/>
<line x1="471.80" y1="257.0" x2="471.80" y2="340.5" stroke="#d6d6d6" stroke-width="1.6"/>
<line x1="479.70" y1="257.0" x2="479.70" y2="340.5" stroke="#d6d6d6" stroke-width="1.6"/>
<line x1="487.70" y1="257.0" x2="487.70" y2="340.5" stroke="#d6d6d6" stroke-width="1.6"/>
<line x1="495.70" y1="257.0" x2="495.70" y2="340.5" stroke="#d6d6d6" stroke-width="1.6"/>
<line x1="503.60" y1="257.0" x2="503.60" y2="340.5" stroke="#d6d6d6" stroke-width="1.6"/>
<line x1="511.60" y1="257.0" x2="511.60" y2="340.5" stroke="#d6d6d6" stroke-width="1.6"/>
<line x1="519.60" y1="257.0" x2="519.60" y2="340.5" stroke="#d6d6d6" stroke-width="1.6"/>
<line x1="527.70" y1="257.0" x2="527.70" y2="340.5" stroke="#d6d6d6" stroke-width="1.6"/>
<line x1="535.90" y1="257.0" x2="535.90" y2="340.5" stroke="#d6d6d6" stroke-width="1.6"/>
<line x1="544.30" y1="257.0" x2="544.30" y2="340.5" stroke="#d6d6d6" stroke-width="1.6"/>
<line x1="284.7" y1="257.00" x2="546.3" y2="257.00" stroke="#505050" stroke-width="1"/>
<line x1="284.7" y1="341.40" x2="546.3" y2="341.40" stroke="#14145a" stroke-width="1.0"/>
<line x1="289.70" y1="255.0" x2="289.70" y2="259.5" stroke="#505050" stroke-width="1"/>
<line x1="343.90" y1="255.0" x2="343.90" y2="259.5" stroke="#505050" stroke-width="1"/>
<line x1="398.20" y1="255.0" x2="398.20" y2="259.5" stroke="#505050" stroke-width="1"/>
<line x1="452.20" y1="255.0" x2="452.20" y2="259.5" stroke="#505050" stroke-width="1"/>
<line x1="506.40" y1="255.0" x2="506.40" y2="259.5" stroke="#505050" stroke-width="1"/>
<text x="343.9" y="252.8" font-family="Liberation Sans, sans-serif" font-size="8.2" text-anchor="middle" fill="#222" stroke="#222" stroke-width="0.25">315</text>
<text x="452.2" y="252.8" font-family="Liberation Sans, sans-serif" font-size="8.2" text-anchor="middle" fill="#222" stroke="#222" stroke-width="0.25">385</text>
<polyline points="284.70,340.50 284.95,340.50 285.20,340.50 285.45,340.50 285.70,340.50 285.95,340.50 286.20,340.50 286.45,340.50 286.70,340.50 286.95,340.50 287.20,340.50 287.45,340.50 287.70,340.50 287.95,340.50 288.20,340.50 288.45,340.50 288.70,340.50 288.95,340.50 289.20,340.50 289.45,340.50 289.70,340.50 289.95,340.50 290.20,340.50 290.45,340.50 290.70,340.50 290.95,340.50 291.20,340.50 291.45,340.50 291.70,340.50 291.95,340.50 292.20,340.50 292.45,340.50 292.70,340.50 292.95,340.50 293.20,340.50 293.45,340.50 293.70,340.50 293.95,340.50 294.20,340.50 294.45,340.50 294.70,340.50 294.95,340.50 295.20,340.50 295.45,340.50 295.70,340.50 295.95,340.50 296.20,340.50 296.45,340.50 296.70,340.50 296.95,340.50 297.20,340.50 297.45,340.50 297.70,340.50 297.95,340.49 298.20,340.49 298.45,340.49 298.70,340.48 298.95,340.48 299.20,340.47 299.45,340.45 299.70,340.39 299.95,340.17 300.20,339.57 300.45,338.81 300.60,338.60 300.70,338.70 300.95,339.41 301.20,340.08 301.45,340.37 301.70,340.44 301.95,340.46 302.20,340.47 302.45,340.48 302.70,340.49 302.95,340.49 303.20,340.49 303.45,340.49 303.70,340.49 303.95,340.49 304.20,340.49 304.45,340.49 304.70,340.49 304.95,340.49 305.20,340.48 305.45,340.48 305.70,340.47 305.95,340.47 306.20,340.46 306.45,340.46 306.70,340.45 306.95,340.44 307.20,340.42 307.45,340.41 307.70,340.39 307.95,340.37 308.20,340.34 308.45,340.31 308.70,340.28 308.95,340.24 309.20,340.20 309.45,340.15 309.70,340.09 309.95,340.03 310.20,339.97 310.45,339.90 310.70,339.82 310.95,339.74 311.20,339.66 311.45,339.54 311.70,339.33 311.95,339.01 312.20,338.78 312.45,338.88 312.70,339.07 312.95,339.16 313.20,339.16 313.45,339.12 313.70,339.07 313.95,339.02 314.20,338.97 314.45,338.92 314.70,338.85 314.95,338.77 315.20,338.68 315.45,338.57 315.70,338.43 315.95,338.25 316.20,338.03 316.45,337.70 316.70,337.09 316.95,335.49 317.20,331.12 317.45,321.36 317.70,305.52 317.95,288.70 318.20,280.28 318.45,288.69 318.70,305.50 318.95,321.32 319.20,331.06 319.45,335.41 319.70,336.99 319.95,337.57 320.20,337.86 320.45,338.03 320.70,338.15 320.95,338.22 321.20,338.23 321.45,338.20 321.70,338.13 321.95,337.99 322.20,337.75 322.45,337.21 322.70,335.68 322.95,331.53 323.20,322.76 323.45,309.54 323.70,296.93 323.90,292.37 323.95,292.89 324.20,301.51 324.45,315.37 324.70,327.24 324.95,334.12 325.20,337.13 325.45,338.32 325.70,338.88 325.95,339.26 326.20,339.55 326.45,339.78 326.70,339.96 326.95,340.09 327.20,340.20 327.45,340.27 327.70,340.33 327.95,340.37 328.20,340.40 328.45,340.42 328.70,340.44 328.95,340.46 329.20,340.47 329.45,340.47 329.70,340.48 329.95,340.48 330.20,340.49 330.45,340.49 330.70,340.49 330.95,340.49 331.20,340.50 331.45,340.50 331.70,340.50 331.95,340.50 332.20,340.50 332.45,340.50 332.70,340.50 332.95,340.50 333.20,340.50 333.45,340.50 333.70,340.50 333.95,340.50 334.20,340.50 334.45,340.50 334.70,340.50 334.95,340.50 335.20,340.50 335.45,340.50 335.70,340.50 335.95,340.50 336.20,340.50 336.45,340.50 336.70,340.50 336.95,340.50 337.20,340.50 337.45,340.50 337.70,340.50 337.95,340.50 338.20,340.50 338.45,340.50 338.70,340.50 338.95,340.50 339.20,340.50 339.45,340.50 339.70,340.50 339.95,340.50 340.20,340.50 340.45,340.50 340.70,340.50 340.95,340.50 341.20,340.50 341.45,340.50 341.70,340.50 341.95,340.50 342.20,340.50 342.45,340.50 342.70,340.50 342.95,340.50 343.20,340.50 343.45,340.50 343.70,340.50 343.95,340.50 344.20,340.50 344.45,340.50 344.70,340.50 344.95,340.50 345.20,340.50 345.45,340.50 345.70,340.50 345.95,340.50 346.20,340.50 346.45,340.50 346.70,340.50 346.95,340.50 347.20,340.50 347.45,340.50 347.70,340.50 347.95,340.50 348.20,340.50 348.45,340.50 348.70,340.50 348.95,340.50 349.20,340.50 349.45,340.50 349.70,340.50 349.95,340.50 350.20,340.50 350.45,340.50 350.70,340.50 350.95,340.50 351.20,340.50 351.45,340.50 351.70,340.50 351.95,340.50 352.20,340.50 352.45,340.50 352.70,340.50 352.95,340.50 353.20,340.50 353.45,340.50 353.70,340.50 353.95,340.50 354.20,340.50 354.45,340.50 354.70,340.50 354.95,340.50 355.20,340.50 355.45,340.50 355.70,340.50 355.95,340.50 356.20,340.50 356.45,340.50 356.70,340.50 356.95,340.50 357.20,340.50 357.45,340.50 357.70,340.50 357.95,340.50 358.20,340.50 358.45,340.50 358.70,340.50 358.95,340.50 359.20,340.50 359.45,340.50 359.70,340.50 359.95,340.50 360.20,340.50 360.45,340.50 360.70,340.50 360.95,340.50 361.20,340.50 361.45,340.50 361.70,340.50 361.95,340.50 362.20,340.50 362.45,340.50 362.70,340.50 362.95,340.50 363.20,340.50 363.45,340.50 363.70,340.50 363.95,340.50 364.20,340.50 364.45,340.50 364.70,340.50 364.95,340.50 365.20,340.50 365.45,340.50 365.70,340.50 365.95,340.50 366.20,340.50 366.45,340.50 366.70,340.50 366.95,340.50 367.20,340.50 367.45,340.50 367.70,340.50 367.95,340.50 368.20,340.50 368.45,340.50 368.70,340.50 368.95,340.50 369.20,340.50 369.45,340.50 369.70,340.50 369.95,340.50 370.20,340.50 370.45,340.50 370.70,340.50 370.95,340.50 371.20,340.50 371.45,340.50 371.70,340.50 371.95,340.50 372.20,340.50 372.45,340.50 372.70,340.50 372.95,340.50 373.20,340.50 373.45,340.50 373.70,340.50 373.95,340.50 374.20,340.50 374.45,340.50 374.70,340.50 374.95,340.50 375.20,340.50 375.45,340.50 375.70,340.50 375.95,340.50 376.20,340.50 376.45,340.50 376.70,340.50 376.95,340.50 377.20,340.50 377.45,340.50 377.70,340.50 377.95,340.50 378.20,340.50 378.45,340.50 378.70,340.50 378.95,340.50 379.20,340.50 379.45,340.50 379.70,340.50 379.95,340.50 380.20,340.50 380.45,340.50 380.70,340.50 380.95,340.50 381.20,340.50 381.45,340.50 381.70,340.50 381.95,340.50 382.20,340.50 382.45,340.50 382.70,340.50 382.95,340.50 383.20,340.50 383.45,340.50 383.70,340.50 383.95,340.50 384.20,340.50 384.45,340.50 384.70,340.50 384.95,340.50 385.20,340.50 385.45,340.50 385.70,340.50 385.95,340.50 386.20,340.50 386.45,340.50 386.70,340.50 386.95,340.50 387.20,340.50 387.45,340.50 387.70,340.50 387.95,340.50 388.20,340.50 388.45,340.50 388.70,340.50 388.95,340.50 389.20,340.50 389.45,340.50 389.70,340.50 389.95,340.50 390.20,340.50 390.45,340.50 390.70,340.50 390.95,340.50 391.20,340.50 391.45,340.50 391.70,340.50 391.95,340.50 392.20,340.50 392.45,340.50 392.70,340.50 392.95,340.50 393.20,340.50 393.45,340.50 393.70,340.50 393.95,340.50 394.20,340.50 394.45,340.50 394.70,340.50 394.95,340.50 395.20,340.50 395.45,340.50 395.70,340.50 395.95,340.50 396.20,340.50 396.45,340.50 396.70,340.50 396.95,340.50 397.20,340.50 397.45,340.50 397.70,340.50 397.95,340.50 398.20,340.50 398.45,340.50 398.70,340.50 398.95,340.50 399.20,340.50 399.45,340.50 399.70,340.50 399.95,340.50 400.20,340.50 400.45,340.50 400.70,340.50 400.95,340.50 401.20,340.50 401.45,340.50 401.70,340.50 401.95,340.50 402.20,340.50 402.45,340.50 402.70,340.50 402.95,340.50 403.20,340.50 403.45,340.50 403.70,340.50 403.95,340.50 404.20,340.50 404.45,340.50 404.70,340.50 404.95,340.50 405.20,340.50 405.45,340.50 405.70,340.50 405.95,340.50 406.20,340.50 406.45,340.50 406.70,340.50 406.95,340.50 407.20,340.50 407.45,340.50 407.70,340.50 407.95,340.50 408.20,340.50 408.45,340.50 408.70,340.50 408.95,340.50 409.20,340.50 409.45,340.50 409.70,340.50 409.95,340.50 410.20,340.50 410.45,340.50 410.70,340.50 410.95,340.50 411.20,340.50 411.45,340.50 411.70,340.50 411.95,340.50 412.20,340.50 412.45,340.50 412.70,340.50 412.95,340.50 413.20,340.50 413.45,340.50 413.70,340.50 413.95,340.50 414.20,340.50 414.45,340.50 414.70,340.50 414.95,340.50 415.20,340.50 415.45,340.50 415.70,340.50 415.95,340.50 416.20,340.50 416.45,340.50 416.70,340.50 416.95,340.50 417.20,340.50 417.45,340.50 417.70,340.50 417.95,340.50 418.20,340.50 418.45,340.50 418.70,340.50 418.95,340.50 419.20,340.50 419.45,340.50 419.70,340.50 419.95,340.50 420.20,340.50 420.45,340.50 420.70,340.50 420.95,340.50 421.20,340.50 421.45,340.50 421.70,340.50 421.95,340.50 422.20,340.50 422.45,340.50 422.70,340.50 422.95,340.50 423.20,340.50 423.45,340.50 423.70,340.50 423.95,340.50 424.20,340.50 424.45,340.50 424.70,340.50 424.95,340.50 425.20,340.50 425.45,340.50 425.70,340.50 425.95,340.50 426.20,340.50 426.45,340.50 426.70,340.50 426.95,340.50 427.20,340.50 427.45,340.50 427.70,340.50 427.95,340.50 428.20,340.50 428.45,340.50 428.70,340.50 428.95,340.50 429.20,340.50 429.45,340.50 429.70,340.50 429.95,340.50 430.20,340.50 430.45,340.50 430.70,340.50 430.95,340.50 431.20,340.50 431.45,340.50 431.70,340.50 431.95,340.50 432.20,340.50 432.45,340.50 432.70,340.50 432.95,340.50 433.20,340.50 433.45,340.50 433.70,340.50 433.95,340.50 434.20,340.50 434.45,340.50 434.70,340.50 434.95,340.50 435.20,340.50 435.45,340.50 435.70,340.50 435.95,340.50 436.20,340.50 436.45,340.50 436.70,340.50 436.95,340.50 437.20,340.50 437.45,340.50 437.70,340.50 437.95,340.50 438.20,340.50 438.45,340.50 438.70,340.50 438.95,340.50 439.20,340.50 439.45,340.50 439.70,340.50 439.95,340.50 440.20,340.50 440.45,340.50 440.70,340.50 440.95,340.50 441.20,340.50 441.45,340.50 441.70,340.50 441.95,340.50 442.20,340.50 442.45,340.50 442.70,340.50 442.95,340.50 443.20,340.50 443.45,340.50 443.70,340.50 443.95,340.50 444.20,340.50 444.45,340.50 444.70,340.50 444.95,340.50 445.20,340.50 445.45,340.50 445.70,340.50 445.95,340.50 446.20,340.50 446.45,340.50 446.70,340.50 446.95,340.50 447.20,340.50 447.45,340.50 447.70,340.50 447.95,340.50 448.20,340.50 448.45,340.50 448.70,340.50 448.95,340.50 449.20,340.50 449.45,340.50 449.70,340.50 449.95,340.50 450.20,340.50 450.45,340.50 450.70,340.50 450.95,340.50 451.20,340.50 451.45,340.50 451.70,340.50 451.95,340.50 452.20,340.50 452.45,340.50 452.70,340.50 452.95,340.50 453.20,340.50 453.45,340.50 453.70,340.50 453.95,340.50 454.20,340.50 454.45,340.50 454.70,340.50 454.95,340.50 455.20,340.50 455.45,340.50 455.70,340.50 455.95,340.50 456.20,340.50 456.45,340.50 456.70,340.50 456.95,340.50 457.20,340.50 457.45,340.50 457.70,340.50 457.95,340.50 458.20,340.50 458.45,340.50 458.70,340.50 458.95,340.50 459.20,340.50 459.45,340.50 459.70,340.50 459.95,340.50 460.20,340.50 460.45,340.50 460.70,340.50 460.95,340.50 461.20,340.50 461.45,340.50 461.70,340.50 461.95,340.50 462.20,340.50 462.45,340.50 462.70,340.50 462.95,340.50 463.20,340.50 463.45,340.50 463.70,340.50 463.95,340.50 464.20,340.50 464.45,340.50 464.70,340.50 464.95,340.50 465.20,340.50 465.45,340.50 465.70,340.49 465.95,340.49 466.20,340.49 466.45,340.48 466.70,340.48 466.95,340.47 467.20,340.46 467.45,340.45 467.70,340.43 467.95,340.41 468.20,340.38 468.45,340.34 468.70,340.29 468.95,340.22 469.20,340.15 469.45,340.06 469.70,339.97 469.95,339.87 470.20,339.77 470.45,339.67 470.70,339.58 470.95,339.50 471.20,339.44 471.45,339.38 471.70,339.34 471.95,339.30 472.20,339.28 472.45,339.26 472.70,339.24 472.95,339.23 473.20,339.22 473.45,339.21 473.70,339.21 473.95,339.20 474.20,339.20 474.45,339.19 474.70,339.18 474.95,339.18 475.20,339.17 475.45,339.16 475.70,339.14 475.95,339.13 476.20,339.11 476.45,339.08 476.70,339.04 476.95,338.99 477.20,338.93 477.45,338.85 477.70,338.75 477.95,338.61 478.20,338.44 478.45,338.21 478.70,337.85 478.95,337.09 479.20,334.87 479.45,328.73 479.70,315.99 479.95,298.33 480.20,284.74 480.30,282.80 480.45,286.58 480.70,301.90 480.95,319.09 481.20,330.41 481.45,335.51 481.70,337.29 481.95,337.91 482.20,338.22 482.45,338.43 482.70,338.58 482.95,338.68 483.20,338.75 483.45,338.80 483.70,338.82 483.95,338.83 484.20,338.82 484.45,338.80 484.70,338.77 484.95,338.73 485.20,338.69 485.45,338.65 485.70,338.61 485.95,338.57 486.20,338.54 486.45,338.51 486.70,338.50 486.95,338.49 487.20,338.50 487.45,338.51 487.70,338.54 487.95,338.57 488.20,338.61 488.45,338.66 488.70,338.71 488.95,338.76 489.20,338.81 489.45,338.86 489.70,338.90 489.95,338.95 490.20,338.98 490.45,339.01 490.70,339.03 490.95,339.05 491.20,339.05 491.45,339.05 491.70,339.04 491.95,339.02 492.20,338.98 492.45,338.93 492.70,338.86 492.95,338.77 493.20,338.65 493.45,338.49 493.70,338.28 493.95,337.99 494.20,337.50 494.45,336.24 494.70,332.46 494.95,322.99 495.20,306.02 495.45,286.77 495.70,276.90 495.95,286.88 496.20,306.25 496.45,323.33 496.70,332.92 496.95,336.82 497.20,338.19 497.45,338.80 497.70,339.18 497.95,339.48 498.20,339.71 498.45,339.89 498.70,340.03 498.95,340.14 499.20,340.23 499.45,340.29 499.70,340.34 499.95,340.38 500.20,340.41 500.45,340.43 500.70,340.45 500.95,340.46 501.20,340.47 501.45,340.48 501.70,340.48 501.95,340.49 502.20,340.49 502.45,340.49 502.70,340.49 502.95,340.50 503.20,340.50 503.45,340.50 503.70,340.50 503.95,340.50 504.20,340.50 504.45,340.50 504.70,340.50 504.95,340.50 505.20,340.50 505.45,340.50 505.70,340.50 505.95,340.50 506.20,340.50 506.45,340.50 506.70,340.50 506.95,340.50 507.20,340.50 507.45,340.50 507.70,340.50 507.95,340.50 508.20,340.50 508.45,340.50 508.70,340.50 508.95,340.50 509.20,340.50 509.45,340.50 509.70,340.50 509.95,340.50 510.20,340.50 510.45,340.50 510.70,340.50 510.95,340.50 511.20,340.50 511.45,340.50 511.70,340.50 511.95,340.50 512.20,340.50 512.45,340.50 512.70,340.50 512.95,340.50 513.20,340.50 513.45,340.50 513.70,340.50 513.95,340.50 514.20,340.50 514.45,340.50 514.70,340.50 514.95,340.50 515.20,340.50 515.45,340.50 515.70,340.50 515.95,340.50 516.20,340.50 516.45,340.50 516.70,340.50 516.95,340.50 517.20,340.50 517.45,340.50 517.70,340.50 517.95,340.50 518.20,340.50 518.45,340.50 518.70,340.50 518.95,340.50 519.20,340.50 519.45,340.50 519.70,340.50 519.95,340.50 520.20,340.50 520.45,340.50 520.70,340.50 520.95,340.50 521.20,340.50 521.45,340.50 521.70,340.50 521.95,340.50 522.20,340.50 522.45,340.50 522.70,340.50 522.95,340.50 523.20,340.50 523.45,340.50 523.70,340.50 523.95,340.50 524.20,340.50 524.45,340.50 524.70,340.50 524.95,340.50 525.20,340.50 525.45,340.50 525.70,340.50 525.95,340.50 526.20,340.50 526.45,340.50 526.70,340.50 526.95,340.50 527.20,340.50 527.45,340.50 527.70,340.50 527.95,340.50 528.20,340.50 528.45,340.50 528.70,340.50 528.95,340.50 529.20,340.50 529.45,340.50 529.70,340.50 529.95,340.50 530.20,340.50 530.45,340.50 530.70,340.50 530.95,340.50 531.20,340.50 531.45,340.50 531.70,340.50 531.95,340.50 532.20,340.50 532.45,340.50 532.70,340.50 532.95,340.50 533.20,340.50 533.45,340.50 533.70,340.50 533.95,340.50 534.20,340.50 534.45,340.50 534.70,340.50 534.95,340.50 535.20,340.50 535.45,340.50 535.70,340.50 535.95,340.50 536.20,340.50 536.45,340.50 536.70,340.50 536.95,340.50 537.20,340.50 537.45,340.50 537.70,340.50 537.95,340.50 538.20,340.50 538.45,340.50 538.70,340.50 538.95,340.50 539.20,340.50 539.45,340.50 539.70,340.50 539.95,340.50 540.20,340.50 540.45,340.50 540.70,340.50 540.95,340.50 541.20,340.50 541.45,340.50 541.70,340.50 541.95,340.50 542.20,340.50 542.45,340.50 542.70,340.50 542.95,340.50 543.20,340.50 543.45,340.50 543.70,340.50 543.95,340.50 544.20,340.50 544.45,340.50 544.70,340.50 544.95,340.50 545.20,340.50 545.45,340.50 545.70,340.50 545.95,340.50 546.20,340.50" fill="none" stroke="#1e1ed4" stroke-width="1.2" stroke-linejoin="round"/>
<line x1="85.4" y1="341.5" x2="85.4" y2="346.3" stroke="#9a9ad8" stroke-width="1"/>
<rect x="68.1" y="346.3" width="34.6" height="28.8" fill="#fff" stroke="#9a9ad8" stroke-width="1"/>
<text x="71.1" y="359.3" font-family="Liberation Serif, serif" font-size="11.9" fill="#1a1a1a" stroke="#1a1a1a" stroke-width="0.3">16</text>
<text x="71.1" y="372.4" font-family="Liberation Serif, serif" font-size="11.9" fill="#1a1a1a" stroke="#1a1a1a" stroke-width="0.3">40038</text>
<line x1="140.4" y1="341.5" x2="140.4" y2="346.3" stroke="#9a9ad8" stroke-width="1"/>
<line x1="156.4" y1="341.5" x2="156.4" y2="379.6" stroke="#9a9ad8" stroke-width="1"/>
<rect x="124.0" y="346.3" width="32.0" height="28.8" fill="#fff" stroke="#9a9ad8" stroke-width="1"/>
<text x="127.0" y="359.3" font-family="Liberation Serif, serif" font-size="11.9" fill="#1a1a1a" stroke="#1a1a1a" stroke-width="0.3">7</text>
<text x="127.0" y="372.4" font-family="Liberation Serif, serif" font-size="11.9" fill="#1a1a1a" stroke="#1a1a1a" stroke-width="0.3">11853</text>
<rect x="140.4" y="379.6" width="33.4" height="28.8" fill="#fff" stroke="#9a9ad8" stroke-width="1"/>
<text x="143.4" y="392.6" font-family="Liberation Serif, serif" font-size="11.9" fill="#1a1a1a" stroke="#1a1a1a" stroke-width="0.3">9.3</text>
<text x="143.4" y="405.7" font-family="Liberation Serif, serif" font-size="11.9" fill="#1a1a1a" stroke="#1a1a1a" stroke-width="0.3">11477</text>
<line x1="219.5" y1="341.5" x2="219.5" y2="346.3" stroke="#9a9ad8" stroke-width="1"/>
<line x1="228.5" y1="341.5" x2="228.5" y2="379.6" stroke="#9a9ad8" stroke-width="1"/>
<rect x="202.5" y="346.3" width="34.3" height="28.8" fill="#fff" stroke="#9a9ad8" stroke-width="1"/>
<text x="205.5" y="359.3" font-family="Liberation Serif, serif" font-size="11.9" fill="#1a1a1a" stroke="#1a1a1a" stroke-width="0.3">29</text>
<text x="205.5" y="372.4" font-family="Liberation Serif, serif" font-size="11.9" fill="#1a1a1a" stroke="#1a1a1a" stroke-width="0.3">29832</text>
<rect x="211.6" y="379.6" width="34.2" height="28.8" fill="#fff" stroke="#9a9ad8" stroke-width="1"/>
<text x="214.6" y="392.6" font-family="Liberation Serif, serif" font-size="11.9" fill="#1a1a1a" stroke="#1a1a1a" stroke-width="0.3">30.2</text>
<text x="214.6" y="405.7" font-family="Liberation Serif, serif" font-size="11.9" fill="#1a1a1a" stroke="#1a1a1a" stroke-width="0.3">35018</text>
<line x1="318.6" y1="341.5" x2="318.6" y2="345.9" stroke="#9a9ad8" stroke-width="1"/>
<line x1="324.5" y1="341.5" x2="324.5" y2="378.7" stroke="#9a9ad8" stroke-width="1"/>
<rect x="301.3" y="345.9" width="35.2" height="28.6" fill="#fff" stroke="#9a9ad8" stroke-width="1"/>
<text x="304.3" y="358.9" font-family="Liberation Serif, serif" font-size="11.9" fill="#1a1a1a" stroke="#1a1a1a" stroke-width="0.3">12</text>
<text x="304.3" y="372.0" font-family="Liberation Serif, serif" font-size="11.9" fill="#1a1a1a" stroke="#1a1a1a" stroke-width="0.3">38041</text>
<rect x="306.6" y="378.7" width="35.2" height="28.2" fill="#fff" stroke="#9a9ad8" stroke-width="1"/>
<text x="309.6" y="391.7" font-family="Liberation Serif, serif" font-size="11.9" fill="#1a1a1a" stroke="#1a1a1a" stroke-width="0.3">13</text>
<text x="309.6" y="404.8" font-family="Liberation Serif, serif" font-size="11.9" fill="#1a1a1a" stroke="#1a1a1a" stroke-width="0.3">30416</text>
<line x1="480.4" y1="341.5" x2="480.4" y2="345.9" stroke="#9a9ad8" stroke-width="1"/>
<line x1="496.4" y1="341.5" x2="496.4" y2="378.7" stroke="#9a9ad8" stroke-width="1"/>
<rect x="462.5" y="345.9" width="36.2" height="28.3" fill="#fff" stroke="#9a9ad8" stroke-width="1"/>
<text x="465.5" y="358.9" font-family="Liberation Serif, serif" font-size="11.9" fill="#1a1a1a" stroke="#1a1a1a" stroke-width="0.3">10</text>
<text x="465.5" y="372.0" font-family="Liberation Serif, serif" font-size="11.9" fill="#1a1a1a" stroke="#1a1a1a" stroke-width="0.3">42127</text>
<rect x="478.5" y="378.7" width="36.2" height="28.2" fill="#fff" stroke="#9a9ad8" stroke-width="1"/>
<text x="481.5" y="391.7" font-family="Liberation Serif, serif" font-size="11.9" fill="#1a1a1a" stroke="#1a1a1a" stroke-width="0.3">12</text>
<text x="481.5" y="404.8" font-family="Liberation Serif, serif" font-size="11.9" fill="#1a1a1a" stroke="#1a1a1a" stroke-width="0.3">47248</text>
<line x1="182.7" y1="84.7" x2="182.7" y2="108.6" stroke="#111" stroke-width="1.6"/>
<polyline points="178.5,102.1 182.7,109.0 186.9,102.1" fill="none" stroke="#111" stroke-width="1.6" stroke-linejoin="miter"/>
</svg>
</body></html>
